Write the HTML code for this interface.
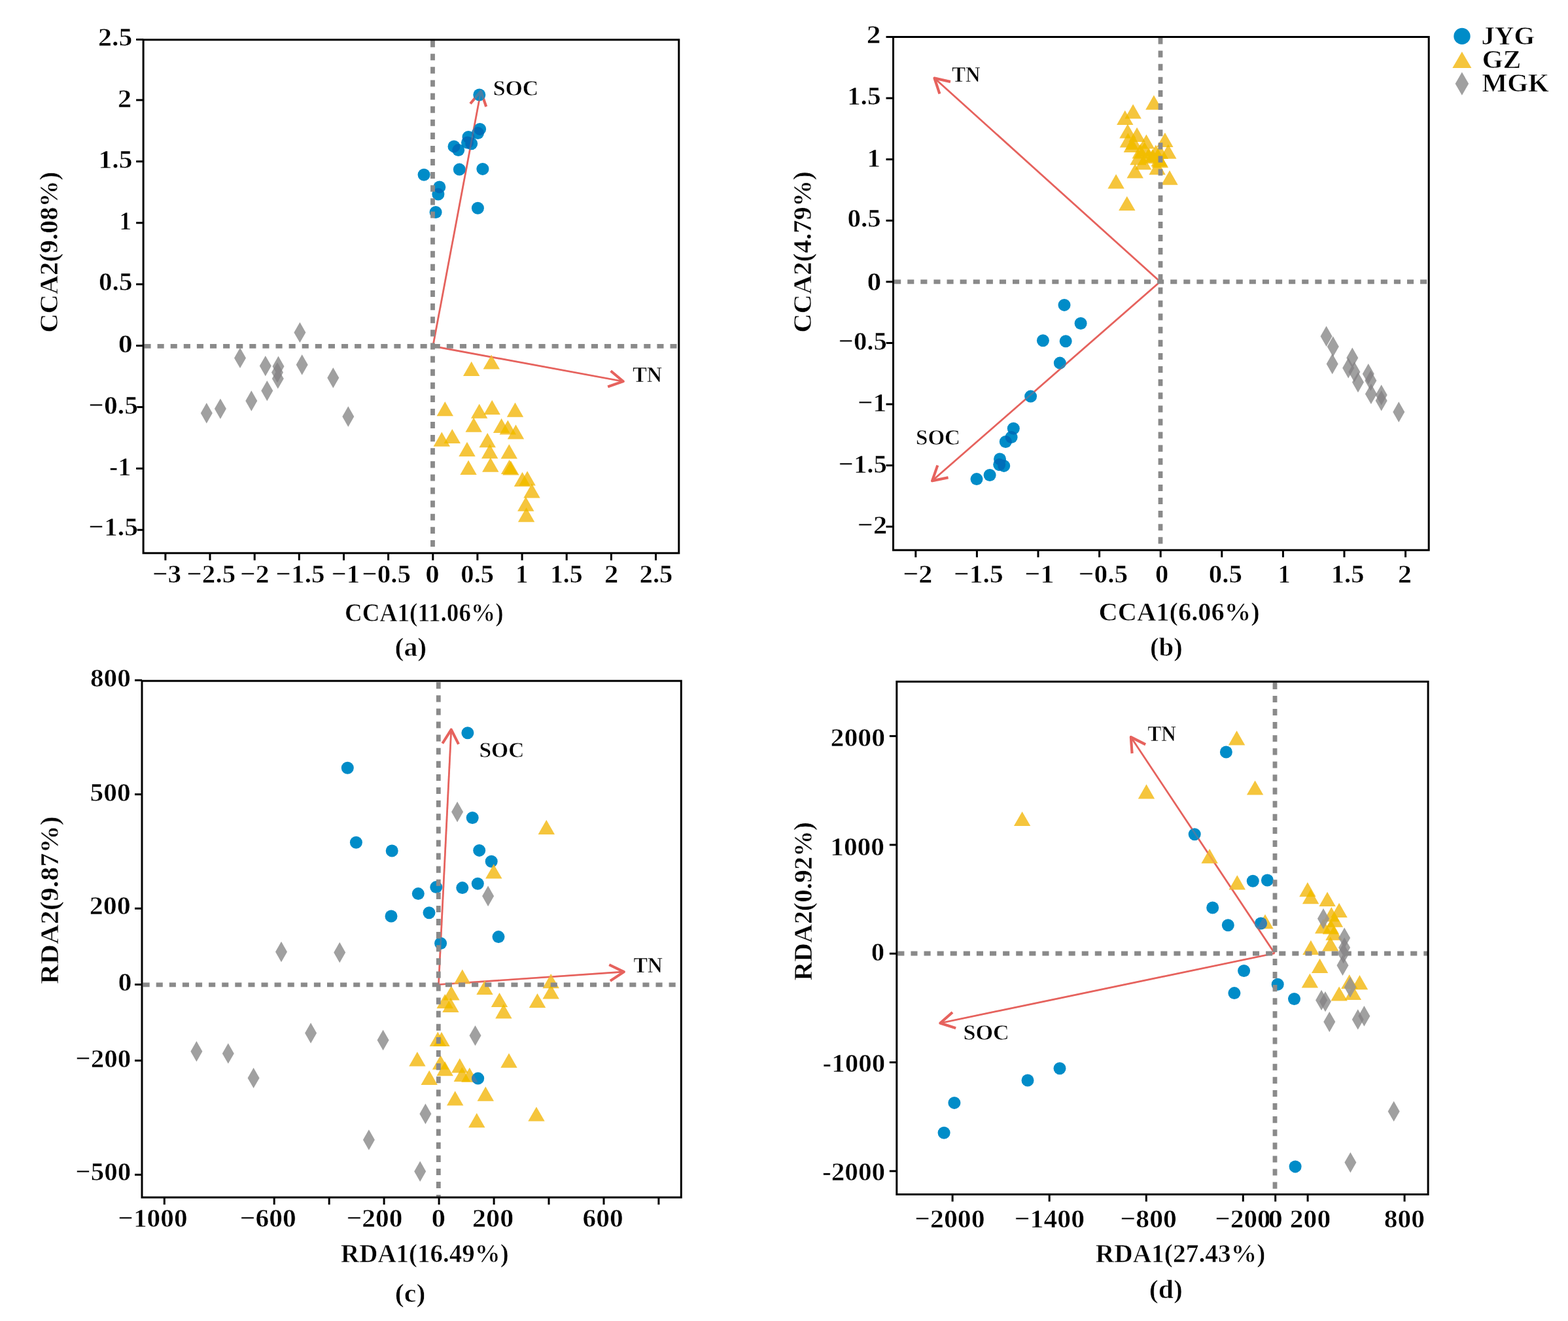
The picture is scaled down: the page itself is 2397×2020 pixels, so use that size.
<!DOCTYPE html>
<html><head><meta charset="utf-8"><title>CCA / RDA ordination plots</title>
<style>html,body{margin:0;padding:0;background:#fff;}svg{display:block;}</style></head>
<body>
<svg width="2397" height="2020" viewBox="0 0 2397 2020">
<defs><clipPath id="k0"><polygon points="425.5,544.6 434.5,560.3 425.5,576.0 416.5,560.3"/></clipPath><clipPath id="k1"><polygon points="425.5,544.6 434.5,560.3 425.5,576.0 416.5,560.3"/></clipPath><clipPath id="k2"><polygon points="424.8,563.2 433.8,578.9 424.8,594.6 415.8,578.9"/></clipPath><clipPath id="k3"><polygon points="424.8,563.2 433.8,578.9 424.8,594.6 415.8,578.9"/></clipPath><clipPath id="k4"><polygon points="424.0,553.9 433.0,569.6 424.0,585.3 415.0,569.6"/></clipPath><clipPath id="k5"><polygon points="732.7,617.6 745.4,639.8 720.0,639.8"/></clipPath><clipPath id="k6"><polygon points="732.7,617.6 745.4,639.8 720.0,639.8"/></clipPath><clipPath id="k7"><polygon points="766.6,639.7 779.3,661.9 753.9,661.9"/></clipPath><clipPath id="k8"><polygon points="766.6,639.7 779.3,661.9 753.9,661.9"/></clipPath><clipPath id="k9"><polygon points="776.3,642.4 789.0,664.6 763.6,664.6"/></clipPath><clipPath id="k10"><polygon points="675.3,660.5 688.0,682.7 662.6,682.7"/></clipPath><clipPath id="k11"><polygon points="691.3,655.9 704.0,678.1 678.6,678.1"/></clipPath><clipPath id="k12"><polygon points="745.2,662.0 757.9,684.2 732.5,684.2"/></clipPath><clipPath id="k13"><polygon points="748.7,679.0 761.4,701.2 736.0,701.2"/></clipPath><clipPath id="k14"><polygon points="778.6,702.9 791.3,725.1 765.9,725.1"/></clipPath><clipPath id="k15"><polygon points="778.6,702.9 791.3,725.1 765.9,725.1"/></clipPath><clipPath id="k16"><polygon points="780.9,704.4 793.6,726.6 768.2,726.6"/></clipPath><clipPath id="k17"><polygon points="780.9,704.4 793.6,726.6 768.2,726.6"/></clipPath><clipPath id="k18"><polygon points="798.5,721.7 811.2,743.9 785.8,743.9"/></clipPath><clipPath id="k19"><polygon points="798.5,721.7 811.2,743.9 785.8,743.9"/></clipPath><clipPath id="k20"><polygon points="806.1,720.2 818.8,742.4 793.4,742.4"/></clipPath><clipPath id="k21"><polygon points="813.0,739.3 825.7,761.5 800.3,761.5"/></clipPath><clipPath id="k22"><polygon points="803.8,759.5 816.5,781.7 791.1,781.7"/></clipPath><clipPath id="k23"><circle cx="733.6" cy="197.4" r="9.50"/></clipPath><clipPath id="k24"><circle cx="733.6" cy="197.4" r="9.50"/></clipPath><clipPath id="k25"><circle cx="730.5" cy="203.5" r="9.50"/></clipPath><clipPath id="k26"><circle cx="730.5" cy="203.5" r="9.50"/></clipPath><clipPath id="k27"><circle cx="716.0" cy="209.5" r="9.50"/></clipPath><clipPath id="k28"><circle cx="730.5" cy="203.5" r="9.50"/></clipPath><clipPath id="k29"><circle cx="716.0" cy="209.5" r="9.50"/></clipPath><clipPath id="k30"><circle cx="714.5" cy="218.0" r="9.50"/></clipPath><clipPath id="k31"><circle cx="714.5" cy="218.0" r="9.50"/></clipPath><clipPath id="k32"><circle cx="694.0" cy="223.9" r="9.50"/></clipPath><clipPath id="k33"><circle cx="671.8" cy="285.9" r="9.50"/></clipPath><clipPath id="k34"><polygon points="2027.6,498.5 2036.6,514.2 2027.6,529.9 2018.6,514.2"/></clipPath><clipPath id="k35"><polygon points="2037.8,514.3 2046.8,530.0 2037.8,545.7 2028.8,530.0"/></clipPath><clipPath id="k36"><polygon points="2067.3,531.6 2076.3,547.3 2067.3,563.0 2058.3,547.3"/></clipPath><clipPath id="k37"><polygon points="2067.3,531.6 2076.3,547.3 2067.3,563.0 2058.3,547.3"/></clipPath><clipPath id="k38"><polygon points="2061.2,547.0 2070.2,562.7 2061.2,578.4 2052.2,562.7"/></clipPath><clipPath id="k39"><polygon points="2061.2,547.0 2070.2,562.7 2061.2,578.4 2052.2,562.7"/></clipPath><clipPath id="k40"><polygon points="2070.4,553.1 2079.4,568.8 2070.4,584.5 2061.4,568.8"/></clipPath><clipPath id="k41"><polygon points="2076.0,568.9 2085.0,584.6 2076.0,600.3 2067.0,584.6"/></clipPath><clipPath id="k42"><polygon points="2091.8,556.1 2100.8,571.8 2091.8,587.5 2082.8,571.8"/></clipPath><clipPath id="k43"><polygon points="2091.8,556.1 2100.8,571.8 2091.8,587.5 2082.8,571.8"/></clipPath><clipPath id="k44"><polygon points="2095.4,566.3 2104.4,582.0 2095.4,597.7 2086.4,582.0"/></clipPath><clipPath id="k45"><polygon points="2095.4,566.3 2104.4,582.0 2095.4,597.7 2086.4,582.0"/></clipPath><clipPath id="k46"><polygon points="2095.9,586.7 2104.9,602.4 2095.9,618.1 2086.9,602.4"/></clipPath><clipPath id="k47"><polygon points="2095.4,566.3 2104.4,582.0 2095.4,597.7 2086.4,582.0"/></clipPath><clipPath id="k48"><polygon points="2095.9,586.7 2104.9,602.4 2095.9,618.1 2086.9,602.4"/></clipPath><clipPath id="k49"><polygon points="2111.7,588.3 2120.7,604.0 2111.7,619.7 2102.7,604.0"/></clipPath><clipPath id="k50"><polygon points="1732.1,159.3 1744.8,181.5 1719.4,181.5"/></clipPath><clipPath id="k51"><polygon points="1719.8,168.8 1732.5,191.0 1707.1,191.0"/></clipPath><clipPath id="k52"><polygon points="1723.9,189.4 1736.6,211.6 1711.2,211.6"/></clipPath><clipPath id="k53"><polygon points="1738.1,194.8 1750.8,217.0 1725.4,217.0"/></clipPath><clipPath id="k54"><polygon points="1723.9,189.4 1736.6,211.6 1711.2,211.6"/></clipPath><clipPath id="k55"><polygon points="1738.1,194.8 1750.8,217.0 1725.4,217.0"/></clipPath><clipPath id="k56"><polygon points="1723.9,189.4 1736.6,211.6 1711.2,211.6"/></clipPath><clipPath id="k57"><polygon points="1738.1,194.8 1750.8,217.0 1725.4,217.0"/></clipPath><clipPath id="k58"><polygon points="1752.4,205.4 1765.1,227.6 1739.7,227.6"/></clipPath><clipPath id="k59"><polygon points="1724.4,203.2 1737.1,225.4 1711.7,225.4"/></clipPath><clipPath id="k60"><polygon points="1780.9,202.7 1793.6,224.9 1768.2,224.9"/></clipPath><clipPath id="k61"><polygon points="1752.4,205.4 1765.1,227.6 1739.7,227.6"/></clipPath><clipPath id="k62"><polygon points="1724.4,203.2 1737.1,225.4 1711.7,225.4"/></clipPath><clipPath id="k63"><polygon points="1733.0,206.5 1745.7,228.7 1720.3,228.7"/></clipPath><clipPath id="k64"><polygon points="1752.4,205.4 1765.1,227.6 1739.7,227.6"/></clipPath><clipPath id="k65"><polygon points="1780.9,202.7 1793.6,224.9 1768.2,224.9"/></clipPath><clipPath id="k66"><polygon points="1785.8,220.5 1798.5,242.7 1773.1,242.7"/></clipPath><clipPath id="k67"><polygon points="1743.2,220.2 1755.9,242.4 1730.5,242.4"/></clipPath><clipPath id="k68"><polygon points="1743.2,220.2 1755.9,242.4 1730.5,242.4"/></clipPath><clipPath id="k69"><polygon points="1743.2,220.2 1755.9,242.4 1730.5,242.4"/></clipPath><clipPath id="k70"><polygon points="1766.9,221.5 1779.6,243.7 1754.2,243.7"/></clipPath><clipPath id="k71"><polygon points="1740.0,230.1 1752.7,252.3 1727.3,252.3"/></clipPath><clipPath id="k72"><polygon points="1785.8,220.5 1798.5,242.7 1773.1,242.7"/></clipPath><clipPath id="k73"><polygon points="1766.9,221.5 1779.6,243.7 1754.2,243.7"/></clipPath><clipPath id="k74"><polygon points="1752.4,205.4 1765.1,227.6 1739.7,227.6"/></clipPath><clipPath id="k75"><polygon points="1780.9,202.7 1793.6,224.9 1768.2,224.9"/></clipPath><clipPath id="k76"><polygon points="1785.8,220.5 1798.5,242.7 1773.1,242.7"/></clipPath><clipPath id="k77"><polygon points="1766.9,221.5 1779.6,243.7 1754.2,243.7"/></clipPath><clipPath id="k78"><polygon points="1773.4,234.2 1786.1,256.4 1760.7,256.4"/></clipPath><clipPath id="k79"><polygon points="1785.8,220.5 1798.5,242.7 1773.1,242.7"/></clipPath><clipPath id="k80"><polygon points="1766.9,221.5 1779.6,243.7 1754.2,243.7"/></clipPath><clipPath id="k81"><polygon points="1747.6,237.2 1760.3,259.4 1734.9,259.4"/></clipPath><clipPath id="k82"><polygon points="1773.4,234.2 1786.1,256.4 1760.7,256.4"/></clipPath><clipPath id="k83"><polygon points="1773.4,220.9 1786.1,243.1 1760.7,243.1"/></clipPath><clipPath id="k84"><polygon points="1785.8,220.5 1798.5,242.7 1773.1,242.7"/></clipPath><clipPath id="k85"><polygon points="1743.2,220.2 1755.9,242.4 1730.5,242.4"/></clipPath><clipPath id="k86"><polygon points="1766.9,221.5 1779.6,243.7 1754.2,243.7"/></clipPath><clipPath id="k87"><polygon points="1740.0,230.1 1752.7,252.3 1727.3,252.3"/></clipPath><clipPath id="k88"><polygon points="1747.6,237.2 1760.3,259.4 1734.9,259.4"/></clipPath><clipPath id="k89"><polygon points="1773.4,234.2 1786.1,256.4 1760.7,256.4"/></clipPath><clipPath id="k90"><polygon points="1773.4,220.9 1786.1,243.1 1760.7,243.1"/></clipPath><clipPath id="k91"><polygon points="1772.2,232.3 1784.9,254.5 1759.5,254.5"/></clipPath><clipPath id="k92"><polygon points="1747.6,237.2 1760.3,259.4 1734.9,259.4"/></clipPath><clipPath id="k93"><polygon points="1773.4,234.2 1786.1,256.4 1760.7,256.4"/></clipPath><clipPath id="k94"><polygon points="1772.2,232.3 1784.9,254.5 1759.5,254.5"/></clipPath><clipPath id="k95"><polygon points="1762.0,227.7 1774.7,249.9 1749.3,249.9"/></clipPath><clipPath id="k96"><polygon points="1740.0,230.1 1752.7,252.3 1727.3,252.3"/></clipPath><clipPath id="k97"><polygon points="1747.6,237.2 1760.3,259.4 1734.9,259.4"/></clipPath><clipPath id="k98"><polygon points="1769.1,245.0 1781.8,267.2 1756.4,267.2"/></clipPath><clipPath id="k99"><polygon points="1752.4,205.4 1765.1,227.6 1739.7,227.6"/></clipPath><clipPath id="k100"><polygon points="1724.4,203.2 1737.1,225.4 1711.7,225.4"/></clipPath><clipPath id="k101"><polygon points="1733.0,206.5 1745.7,228.7 1720.3,228.7"/></clipPath><clipPath id="k102"><polygon points="1743.2,220.2 1755.9,242.4 1730.5,242.4"/></clipPath><clipPath id="k103"><polygon points="1766.9,221.5 1779.6,243.7 1754.2,243.7"/></clipPath><clipPath id="k104"><polygon points="1740.0,230.1 1752.7,252.3 1727.3,252.3"/></clipPath><clipPath id="k105"><polygon points="1747.6,237.2 1760.3,259.4 1734.9,259.4"/></clipPath><clipPath id="k106"><polygon points="1773.4,234.2 1786.1,256.4 1760.7,256.4"/></clipPath><clipPath id="k107"><polygon points="1773.4,220.9 1786.1,243.1 1760.7,243.1"/></clipPath><clipPath id="k108"><polygon points="1772.2,232.3 1784.9,254.5 1759.5,254.5"/></clipPath><clipPath id="k109"><polygon points="1762.0,227.7 1774.7,249.9 1749.3,249.9"/></clipPath><clipPath id="k110"><polygon points="1723.9,189.4 1736.6,211.6 1711.2,211.6"/></clipPath><clipPath id="k111"><polygon points="1738.1,194.8 1750.8,217.0 1725.4,217.0"/></clipPath><clipPath id="k112"><polygon points="1752.4,205.4 1765.1,227.6 1739.7,227.6"/></clipPath><clipPath id="k113"><polygon points="1724.4,203.2 1737.1,225.4 1711.7,225.4"/></clipPath><clipPath id="k114"><polygon points="1733.0,206.5 1745.7,228.7 1720.3,228.7"/></clipPath><clipPath id="k115"><polygon points="1743.2,220.2 1755.9,242.4 1730.5,242.4"/></clipPath><clipPath id="k116"><polygon points="1740.0,230.1 1752.7,252.3 1727.3,252.3"/></clipPath><clipPath id="k117"><polygon points="1749.7,217.2 1762.4,239.4 1737.0,239.4"/></clipPath><clipPath id="k118"><polygon points="1752.4,205.4 1765.1,227.6 1739.7,227.6"/></clipPath><clipPath id="k119"><polygon points="1733.0,206.5 1745.7,228.7 1720.3,228.7"/></clipPath><clipPath id="k120"><polygon points="1743.2,220.2 1755.9,242.4 1730.5,242.4"/></clipPath><clipPath id="k121"><polygon points="1766.9,221.5 1779.6,243.7 1754.2,243.7"/></clipPath><clipPath id="k122"><polygon points="1740.0,230.1 1752.7,252.3 1727.3,252.3"/></clipPath><clipPath id="k123"><polygon points="1747.6,237.2 1760.3,259.4 1734.9,259.4"/></clipPath><clipPath id="k124"><polygon points="1773.4,234.2 1786.1,256.4 1760.7,256.4"/></clipPath><clipPath id="k125"><polygon points="1773.4,220.9 1786.1,243.1 1760.7,243.1"/></clipPath><clipPath id="k126"><polygon points="1772.2,232.3 1784.9,254.5 1759.5,254.5"/></clipPath><clipPath id="k127"><polygon points="1762.0,227.7 1774.7,249.9 1749.3,249.9"/></clipPath><clipPath id="k128"><polygon points="1769.1,245.0 1781.8,267.2 1756.4,267.2"/></clipPath><clipPath id="k129"><polygon points="1749.7,217.2 1762.4,239.4 1737.0,239.4"/></clipPath><clipPath id="k130"><circle cx="1549.3" cy="655.3" r="9.50"/></clipPath><clipPath id="k131"><circle cx="1546.1" cy="668.5" r="9.50"/></clipPath><clipPath id="k132"><circle cx="1528.5" cy="701.9" r="9.50"/></clipPath><clipPath id="k133"><circle cx="1528.5" cy="701.9" r="9.50"/></clipPath><clipPath id="k134"><circle cx="1534.7" cy="712.4" r="9.50"/></clipPath><clipPath id="k135"><circle cx="1527.7" cy="710.6" r="9.50"/></clipPath><clipPath id="k136"><polygon points="842.2,1489.0 854.9,1511.2 829.5,1511.2"/></clipPath><clipPath id="k137"><polygon points="689.9,1507.3 702.6,1529.5 677.2,1529.5"/></clipPath><clipPath id="k138"><polygon points="689.9,1507.3 702.6,1529.5 677.2,1529.5"/></clipPath><clipPath id="k139"><polygon points="680.2,1519.9 692.9,1542.1 667.5,1542.1"/></clipPath><clipPath id="k140"><polygon points="741.0,1498.7 753.7,1520.9 728.3,1520.9"/></clipPath><clipPath id="k141"><polygon points="763.5,1517.9 776.2,1540.1 750.8,1540.1"/></clipPath><clipPath id="k142"><polygon points="842.2,1505.4 854.9,1527.6 829.5,1527.6"/></clipPath><clipPath id="k143"><polygon points="669.3,1577.7 682.0,1599.9 656.6,1599.9"/></clipPath><clipPath id="k144"><polygon points="673.5,1613.4 686.2,1635.6 660.8,1635.6"/></clipPath><clipPath id="k145"><polygon points="680.2,1623.0 692.9,1645.2 667.5,1645.2"/></clipPath><clipPath id="k146"><polygon points="702.8,1618.2 715.5,1640.4 690.1,1640.4"/></clipPath><clipPath id="k147"><polygon points="702.8,1618.2 715.5,1640.4 690.1,1640.4"/></clipPath><clipPath id="k148"><polygon points="706.3,1631.7 719.0,1653.9 693.6,1653.9"/></clipPath><clipPath id="k149"><polygon points="680.2,1623.0 692.9,1645.2 667.5,1645.2"/></clipPath><clipPath id="k150"><circle cx="732.7" cy="1300.4" r="9.50"/></clipPath><clipPath id="k151"><polygon points="746.1,1354.5 755.1,1370.2 746.1,1385.9 737.1,1370.2"/></clipPath><clipPath id="k152"><polygon points="717.8,1632.6 730.5,1654.8 705.1,1654.8"/></clipPath><clipPath id="k153"><circle cx="751.2" cy="1317.3" r="9.50"/></clipPath><clipPath id="k154"><polygon points="1998.9,1349.1 2011.6,1371.3 1986.2,1371.3"/></clipPath><clipPath id="k155"><polygon points="2029.1,1363.8 2041.8,1386.0 2016.4,1386.0"/></clipPath><clipPath id="k156"><polygon points="2047.1,1380.8 2059.8,1403.0 2034.4,1403.0"/></clipPath><clipPath id="k157"><polygon points="2047.1,1380.8 2059.8,1403.0 2034.4,1403.0"/></clipPath><clipPath id="k158"><polygon points="2035.3,1387.1 2048.0,1409.3 2022.6,1409.3"/></clipPath><clipPath id="k159"><polygon points="2035.3,1387.1 2048.0,1409.3 2022.6,1409.3"/></clipPath><clipPath id="k160"><polygon points="2040.4,1395.5 2053.1,1417.7 2027.7,1417.7"/></clipPath><clipPath id="k161"><polygon points="2035.3,1387.1 2048.0,1409.3 2022.6,1409.3"/></clipPath><clipPath id="k162"><polygon points="2040.4,1395.5 2053.1,1417.7 2027.7,1417.7"/></clipPath><clipPath id="k163"><polygon points="2022.7,1405.2 2035.4,1427.4 2010.0,1427.4"/></clipPath><clipPath id="k164"><polygon points="2040.4,1395.5 2053.1,1417.7 2027.7,1417.7"/></clipPath><clipPath id="k165"><polygon points="2022.7,1405.2 2035.4,1427.4 2010.0,1427.4"/></clipPath><clipPath id="k166"><polygon points="2034.5,1406.3 2047.2,1428.5 2021.8,1428.5"/></clipPath><clipPath id="k167"><polygon points="2039.0,1415.6 2051.7,1437.8 2026.3,1437.8"/></clipPath><clipPath id="k168"><polygon points="2062.8,1489.9 2075.5,1512.1 2050.1,1512.1"/></clipPath><clipPath id="k169"><polygon points="2062.8,1489.9 2075.5,1512.1 2050.1,1512.1"/></clipPath><clipPath id="k170"><polygon points="2062.8,1489.9 2075.5,1512.1 2050.1,1512.1"/></clipPath><clipPath id="k171"><polygon points="2078.5,1491.0 2091.2,1513.2 2065.8,1513.2"/></clipPath><clipPath id="k172"><polygon points="2047.1,1508.4 2059.8,1530.6 2034.4,1530.6"/></clipPath><clipPath id="k173"><polygon points="2035.3,1387.1 2048.0,1409.3 2022.6,1409.3"/></clipPath><clipPath id="k174"><polygon points="2040.4,1395.5 2053.1,1417.7 2027.7,1417.7"/></clipPath><clipPath id="k175"><polygon points="2022.7,1405.2 2035.4,1427.4 2010.0,1427.4"/></clipPath><clipPath id="k176"><polygon points="2034.5,1406.3 2047.2,1428.5 2021.8,1428.5"/></clipPath><clipPath id="k177"><polygon points="2039.0,1415.6 2051.7,1437.8 2026.3,1437.8"/></clipPath><clipPath id="k178"><polygon points="2034.5,1406.3 2047.2,1428.5 2021.8,1428.5"/></clipPath><clipPath id="k179"><polygon points="2039.0,1415.6 2051.7,1437.8 2026.3,1437.8"/></clipPath><clipPath id="k180"><polygon points="2033.8,1432.4 2046.5,1454.6 2021.1,1454.6"/></clipPath><clipPath id="k181"><polygon points="2039.0,1415.6 2051.7,1437.8 2026.3,1437.8"/></clipPath><clipPath id="k182"><polygon points="2033.8,1432.4 2046.5,1454.6 2021.1,1454.6"/></clipPath><clipPath id="k183"><polygon points="2055.2,1418.6 2064.2,1434.3 2055.2,1450.0 2046.2,1434.3"/></clipPath><clipPath id="k184"><polygon points="2033.8,1432.4 2046.5,1454.6 2021.1,1454.6"/></clipPath><clipPath id="k185"><polygon points="2055.2,1418.6 2064.2,1434.3 2055.2,1450.0 2046.2,1434.3"/></clipPath><clipPath id="k186"><polygon points="2055.2,1433.4 2064.2,1449.1 2055.2,1464.8 2046.2,1449.1"/></clipPath><clipPath id="k187"><polygon points="2062.8,1489.9 2075.5,1512.1 2050.1,1512.1"/></clipPath><clipPath id="k188"><polygon points="2055.2,1433.4 2064.2,1449.1 2055.2,1464.8 2046.2,1449.1"/></clipPath><clipPath id="k189"><polygon points="2053.7,1442.2 2062.7,1457.9 2053.7,1473.6 2044.7,1457.9"/></clipPath><clipPath id="k190"><polygon points="2062.8,1489.9 2075.5,1512.1 2050.1,1512.1"/></clipPath><clipPath id="k191"><polygon points="2078.5,1491.0 2091.2,1513.2 2065.8,1513.2"/></clipPath><clipPath id="k192"><polygon points="2047.1,1508.4 2059.8,1530.6 2034.4,1530.6"/></clipPath><clipPath id="k193"><polygon points="2068.4,1506.9 2081.1,1529.1 2055.7,1529.1"/></clipPath><clipPath id="k194"><polygon points="2047.1,1508.4 2059.8,1530.6 2034.4,1530.6"/></clipPath><clipPath id="k195"><polygon points="2020.1,1513.7 2029.1,1529.4 2020.1,1545.1 2011.1,1529.4"/></clipPath><clipPath id="k196"><polygon points="2026.0,1515.9 2035.0,1531.6 2026.0,1547.3 2017.0,1531.6"/></clipPath><clipPath id="k197"><polygon points="2075.8,1543.2 2084.8,1558.9 2075.8,1574.6 2066.8,1558.9"/></clipPath><clipPath id="k198"><polygon points="1934.0,1398.0 1946.7,1420.2 1921.3,1420.2"/></clipPath></defs>
<rect x="0" y="0" width="2397" height="2020" fill="#fff"/>
<g stroke="#E6625D" fill="none" stroke-linecap="butt" stroke-linejoin="miter"><line x1="661.8" y1="529.4" x2="734.9" y2="140.8" stroke-width="2.7"/><polyline points="719.0,158.5 735.1,139.4 743.2,163.0" fill="none" stroke-width="4" stroke-linejoin="round"/><line x1="661.8" y1="529.4" x2="951.4" y2="583.0" stroke-width="2.7"/><polyline points="933.7,567.2 952.8,583.2 929.2,591.4" fill="none" stroke-width="4" stroke-linejoin="round"/></g>
<polygon points="458.4,492.7 467.4,508.4 458.4,524.1 449.4,508.4" fill="#A0A0A0"/>
<polygon points="367.0,531.7 376.0,547.4 367.0,563.1 358.0,547.4" fill="#A0A0A0"/>
<polygon points="405.8,543.9 414.8,559.6 405.8,575.3 396.8,559.6" fill="#A0A0A0"/>
<polygon points="425.5,544.6 434.5,560.3 425.5,576.0 416.5,560.3" fill="#A0A0A0"/>
<polygon points="424.8,563.2 433.8,578.9 424.8,594.6 415.8,578.9" fill="#A0A0A0"/>
<polygon points="424.0,553.9 433.0,569.6 424.0,585.3 415.0,569.6" fill="#A0A0A0"/>
<polygon points="461.7,542.0 470.7,557.7 461.7,573.4 452.7,557.7" fill="#A0A0A0"/>
<polygon points="509.3,562.1 518.3,577.8 509.3,593.5 500.3,577.8" fill="#A0A0A0"/>
<polygon points="408.3,581.9 417.3,597.6 408.3,613.3 399.3,597.6" fill="#A0A0A0"/>
<polygon points="384.3,597.3 393.3,613.0 384.3,628.7 375.3,613.0" fill="#A0A0A0"/>
<polygon points="315.8,616.0 324.8,631.7 315.8,647.4 306.8,631.7" fill="#A0A0A0"/>
<polygon points="336.9,609.4 345.9,625.1 336.9,640.8 327.9,625.1" fill="#A0A0A0"/>
<polygon points="532.3,621.3 541.3,637.0 532.3,652.7 523.3,637.0" fill="#A0A0A0"/>
<polygon points="720.7,552.7 733.4,574.9 708.0,574.9" fill="#F5C53C"/>
<polygon points="751.3,542.4 764.0,564.6 738.6,564.6" fill="#F5C53C"/>
<polygon points="680.3,614.1 693.0,636.3 667.6,636.3" fill="#F5C53C"/>
<polygon points="732.7,617.6 745.4,639.8 720.0,639.8" fill="#F5C53C"/>
<polygon points="752.2,611.8 764.9,634.0 739.5,634.0" fill="#F5C53C"/>
<polygon points="787.5,615.6 800.2,637.8 774.8,637.8" fill="#F5C53C"/>
<polygon points="724.2,638.6 736.9,660.8 711.5,660.8" fill="#F5C53C"/>
<polygon points="766.6,639.7 779.3,661.9 753.9,661.9" fill="#F5C53C"/>
<polygon points="776.3,642.4 789.0,664.6 763.6,664.6" fill="#F5C53C"/>
<polygon points="788.5,649.3 801.2,671.5 775.8,671.5" fill="#F5C53C"/>
<polygon points="675.3,660.5 688.0,682.7 662.6,682.7" fill="#F5C53C"/>
<polygon points="691.3,655.9 704.0,678.1 678.6,678.1" fill="#F5C53C"/>
<polygon points="745.2,662.0 757.9,684.2 732.5,684.2" fill="#F5C53C"/>
<polygon points="714.0,675.8 726.7,698.0 701.3,698.0" fill="#F5C53C"/>
<polygon points="748.7,679.0 761.4,701.2 736.0,701.2" fill="#F5C53C"/>
<polygon points="778.3,679.3 791.0,701.5 765.6,701.5" fill="#F5C53C"/>
<polygon points="716.1,703.8 728.8,726.0 703.4,726.0" fill="#F5C53C"/>
<polygon points="749.8,699.5 762.5,721.7 737.1,721.7" fill="#F5C53C"/>
<polygon points="778.6,702.9 791.3,725.1 765.9,725.1" fill="#F5C53C"/>
<polygon points="780.9,704.4 793.6,726.6 768.2,726.6" fill="#F5C53C"/>
<polygon points="798.5,721.7 811.2,743.9 785.8,743.9" fill="#F5C53C"/>
<polygon points="806.1,720.2 818.8,742.4 793.4,742.4" fill="#F5C53C"/>
<polygon points="813.0,739.3 825.7,761.5 800.3,761.5" fill="#F5C53C"/>
<polygon points="803.8,759.5 816.5,781.7 791.1,781.7" fill="#F5C53C"/>
<polygon points="804.6,776.1 817.3,798.3 791.9,798.3" fill="#F5C53C"/>
<circle cx="732.8" cy="145.0" r="9.50" fill="#008CC8"/>
<circle cx="733.6" cy="197.4" r="9.50" fill="#008CC8"/>
<circle cx="730.5" cy="203.5" r="9.50" fill="#008CC8"/>
<circle cx="716.0" cy="209.5" r="9.50" fill="#008CC8"/>
<circle cx="714.5" cy="218.0" r="9.50" fill="#008CC8"/>
<circle cx="720.7" cy="219.7" r="9.50" fill="#008CC8"/>
<circle cx="694.0" cy="223.9" r="9.50" fill="#008CC8"/>
<circle cx="700.7" cy="229.6" r="9.50" fill="#008CC8"/>
<circle cx="702.3" cy="259.1" r="9.50" fill="#008CC8"/>
<circle cx="737.9" cy="258.4" r="9.50" fill="#008CC8"/>
<circle cx="648.1" cy="267.2" r="9.50" fill="#008CC8"/>
<circle cx="671.8" cy="285.9" r="9.50" fill="#008CC8"/>
<circle cx="669.9" cy="297.1" r="9.50" fill="#008CC8"/>
<circle cx="666.1" cy="324.5" r="9.50" fill="#008CC8"/>
<circle cx="730.4" cy="318.3" r="9.50" fill="#008CC8"/>
<polygon points="424.8,563.2 433.8,578.9 424.8,594.6 415.8,578.9" fill="#8A888A" clip-path="url(#k0)"/>
<polygon points="424.0,553.9 433.0,569.6 424.0,585.3 415.0,569.6" fill="#8A888A" clip-path="url(#k1)"/>
<polygon points="424.0,553.9 433.0,569.6 424.0,585.3 415.0,569.6" fill="#8A888A" clip-path="url(#k2)"/>
<polygon points="408.3,581.9 417.3,597.6 408.3,613.3 399.3,597.6" fill="#8A888A" clip-path="url(#k3)"/>
<polygon points="408.3,581.9 417.3,597.6 408.3,613.3 399.3,597.6" fill="#8A888A" clip-path="url(#k4)"/>
<polygon points="752.2,611.8 764.9,634.0 739.5,634.0" fill="#F2BD00" clip-path="url(#k5)"/>
<polygon points="724.2,638.6 736.9,660.8 711.5,660.8" fill="#F2BD00" clip-path="url(#k6)"/>
<polygon points="776.3,642.4 789.0,664.6 763.6,664.6" fill="#F2BD00" clip-path="url(#k7)"/>
<polygon points="788.5,649.3 801.2,671.5 775.8,671.5" fill="#F2BD00" clip-path="url(#k8)"/>
<polygon points="788.5,649.3 801.2,671.5 775.8,671.5" fill="#F2BD00" clip-path="url(#k9)"/>
<polygon points="691.3,655.9 704.0,678.1 678.6,678.1" fill="#F2BD00" clip-path="url(#k10)"/>
<polygon points="714.0,675.8 726.7,698.0 701.3,698.0" fill="#F2BD00" clip-path="url(#k11)"/>
<polygon points="748.7,679.0 761.4,701.2 736.0,701.2" fill="#F2BD00" clip-path="url(#k12)"/>
<polygon points="749.8,699.5 762.5,721.7 737.1,721.7" fill="#F2BD00" clip-path="url(#k13)"/>
<polygon points="780.9,704.4 793.6,726.6 768.2,726.6" fill="#F2BD00" clip-path="url(#k14)"/>
<polygon points="798.5,721.7 811.2,743.9 785.8,743.9" fill="#F2BD00" clip-path="url(#k15)"/>
<polygon points="798.5,721.7 811.2,743.9 785.8,743.9" fill="#F2BD00" clip-path="url(#k16)"/>
<polygon points="806.1,720.2 818.8,742.4 793.4,742.4" fill="#F2BD00" clip-path="url(#k17)"/>
<polygon points="806.1,720.2 818.8,742.4 793.4,742.4" fill="#F2BD00" clip-path="url(#k18)"/>
<polygon points="813.0,739.3 825.7,761.5 800.3,761.5" fill="#F2BD00" clip-path="url(#k19)"/>
<polygon points="813.0,739.3 825.7,761.5 800.3,761.5" fill="#F2BD00" clip-path="url(#k20)"/>
<polygon points="803.8,759.5 816.5,781.7 791.1,781.7" fill="#F2BD00" clip-path="url(#k21)"/>
<polygon points="804.6,776.1 817.3,798.3 791.9,798.3" fill="#F2BD00" clip-path="url(#k22)"/>
<circle cx="730.5" cy="203.5" r="9.50" fill="#006EB9" clip-path="url(#k23)"/>
<circle cx="716.0" cy="209.5" r="9.50" fill="#006EB9" clip-path="url(#k24)"/>
<circle cx="716.0" cy="209.5" r="9.50" fill="#006EB9" clip-path="url(#k25)"/>
<circle cx="714.5" cy="218.0" r="9.50" fill="#006EB9" clip-path="url(#k26)"/>
<circle cx="714.5" cy="218.0" r="9.50" fill="#006EB9" clip-path="url(#k27)"/>
<circle cx="720.7" cy="219.7" r="9.50" fill="#006EB9" clip-path="url(#k28)"/>
<circle cx="720.7" cy="219.7" r="9.50" fill="#006EB9" clip-path="url(#k29)"/>
<circle cx="720.7" cy="219.7" r="9.50" fill="#006EB9" clip-path="url(#k30)"/>
<circle cx="700.7" cy="229.6" r="9.50" fill="#006EB9" clip-path="url(#k31)"/>
<circle cx="700.7" cy="229.6" r="9.50" fill="#006EB9" clip-path="url(#k32)"/>
<circle cx="669.9" cy="297.1" r="9.50" fill="#006EB9" clip-path="url(#k33)"/>
<g stroke="#E6625D" fill="none" opacity="0.3" stroke-linecap="butt"><line x1="661.8" y1="529.4" x2="734.9" y2="140.8" stroke-width="2.7"/><polyline points="719.0,158.5 735.1,139.4 743.2,163.0" fill="none" stroke-width="4" stroke-linejoin="round"/><line x1="661.8" y1="529.4" x2="951.4" y2="583.0" stroke-width="2.7"/><polyline points="933.7,567.2 952.8,583.2 929.2,591.4" fill="none" stroke-width="4" stroke-linejoin="round"/></g>
<g stroke="#8A8A8A" stroke-width="6.8" stroke-dasharray="10.1 10">
<line x1="661.5" y1="60.8" x2="661.5" y2="845.8" stroke-dashoffset="-1.3"/>
<line x1="219.1" y1="529.4" x2="1037.8" y2="529.4" stroke-dashoffset="-1.4"/>
</g>
<g stroke="#000" stroke-width="3" fill="none">
<rect x="219.1" y="60.8" width="818.7" height="785.0"/>
<line x1="208.1" y1="60.5" x2="219.1" y2="60.5"/>
<line x1="208.1" y1="153.0" x2="219.1" y2="153.0"/>
<line x1="208.1" y1="246.9" x2="219.1" y2="246.9"/>
<line x1="208.1" y1="340.8" x2="219.1" y2="340.8"/>
<line x1="208.1" y1="434.7" x2="219.1" y2="434.7"/>
<line x1="208.1" y1="528.6" x2="219.1" y2="528.6"/>
<line x1="208.1" y1="622.5" x2="219.1" y2="622.5"/>
<line x1="208.1" y1="716.4" x2="219.1" y2="716.4"/>
<line x1="208.1" y1="810.3" x2="219.1" y2="810.3"/>
<line x1="252.9" y1="845.8" x2="252.9" y2="856.8"/>
<line x1="321.0" y1="845.8" x2="321.0" y2="856.8"/>
<line x1="389.2" y1="845.8" x2="389.2" y2="856.8"/>
<line x1="457.3" y1="845.8" x2="457.3" y2="856.8"/>
<line x1="525.5" y1="845.8" x2="525.5" y2="856.8"/>
<line x1="593.6" y1="845.8" x2="593.6" y2="856.8"/>
<line x1="661.8" y1="845.8" x2="661.8" y2="856.8"/>
<line x1="729.9" y1="845.8" x2="729.9" y2="856.8"/>
<line x1="798.1" y1="845.8" x2="798.1" y2="856.8"/>
<line x1="866.2" y1="845.8" x2="866.2" y2="856.8"/>
<line x1="934.4" y1="845.8" x2="934.4" y2="856.8"/>
<line x1="1002.5" y1="845.8" x2="1002.5" y2="856.8"/>
</g>
<g font-family="Liberation Serif, Times New Roman, serif" font-weight="bold" fill="#000" stroke="#fff" stroke-width="0.7" stroke-opacity="0.9">
<text x="150.14" y="70.30" font-size="41.00" textLength="52.37" lengthAdjust="spacingAndGlyphs" >2.5</text>
<text x="180.12" y="163.60" font-size="41.00" textLength="21.15" lengthAdjust="spacingAndGlyphs" >2</text>
<text x="150.47" y="257.20" font-size="41.00" textLength="52.03" lengthAdjust="spacingAndGlyphs" >1.5</text>
<text x="182.20" y="351.20" font-size="41.00" textLength="18.75" lengthAdjust="spacingAndGlyphs" >1</text>
<text x="151.04" y="444.10" font-size="41.00" textLength="51.45" lengthAdjust="spacingAndGlyphs" >0.5</text>
<text x="180.72" y="539.10" font-size="41.00" textLength="22.05" lengthAdjust="spacingAndGlyphs" >0</text>
<text x="135.34" y="632.80" font-size="41.00" textLength="75.65" lengthAdjust="spacingAndGlyphs" >−0.5</text>
<text x="166.96" y="726.70" font-size="41.00" textLength="33.39" lengthAdjust="spacingAndGlyphs" >-1</text>
<text x="135.34" y="818.90" font-size="41.00" textLength="75.65" lengthAdjust="spacingAndGlyphs" >−1.5</text>
<text x="232.94" y="890.70" font-size="41.00" textLength="44.36" lengthAdjust="spacingAndGlyphs" >−3</text>
<text x="285.47" y="890.70" font-size="41.00" textLength="74.70" lengthAdjust="spacingAndGlyphs" >−2.5</text>
<text x="367.03" y="890.70" font-size="41.00" textLength="44.72" lengthAdjust="spacingAndGlyphs" >−2</text>
<text x="421.56" y="890.70" font-size="41.00" textLength="75.02" lengthAdjust="spacingAndGlyphs" >−1.5</text>
<text x="506.68" y="890.70" font-size="41.00" textLength="43.52" lengthAdjust="spacingAndGlyphs" >−1</text>
<text x="553.37" y="890.70" font-size="41.00" textLength="74.60" lengthAdjust="spacingAndGlyphs" >−0.5</text>
<text x="650.17" y="890.70" font-size="41.00" textLength="21.46" lengthAdjust="spacingAndGlyphs" >0</text>
<text x="704.36" y="890.70" font-size="41.00" textLength="50.81" lengthAdjust="spacingAndGlyphs" >0.5</text>
<text x="787.89" y="890.70" font-size="41.00" textLength="19.43" lengthAdjust="spacingAndGlyphs" >1</text>
<text x="840.90" y="890.70" font-size="41.00" textLength="49.93" lengthAdjust="spacingAndGlyphs" >1.5</text>
<text x="923.90" y="890.70" font-size="41.00" textLength="21.39" lengthAdjust="spacingAndGlyphs" >2</text>
<text x="977.49" y="890.70" font-size="41.00" textLength="50.98" lengthAdjust="spacingAndGlyphs" >2.5</text>
<text x="526.92" y="949.60" font-size="41.00" textLength="242.69" lengthAdjust="spacingAndGlyphs" >CCA1(11.06%)</text>
<text x="603.46" y="1002.60" font-size="39.50" textLength="48.80" lengthAdjust="spacingAndGlyphs" >(a)</text>
<text transform="translate(87.50,508.74) rotate(-90)" x="0" y="0" font-size="41.00" textLength="246.16" lengthAdjust="spacingAndGlyphs">CCA2(9.08%)</text>
<text x="753.67" y="145.60" font-size="34.40" textLength="69.61" lengthAdjust="spacingAndGlyphs" >SOC</text>
<text x="967.18" y="583.60" font-size="34.40" textLength="44.74" lengthAdjust="spacingAndGlyphs" >TN</text>
</g>
<g stroke="#E6625D" fill="none" stroke-linecap="butt" stroke-linejoin="miter"><line x1="1773.5" y1="430.8" x2="1429.6" y2="120.5" stroke-width="2.7"/><polyline points="1436.4,143.3 1428.5,119.5 1452.9,125.0" fill="none" stroke-width="4" stroke-linejoin="round"/><line x1="1773.5" y1="430.8" x2="1426.1" y2="734.3" stroke-width="2.7"/><polyline points="1449.5,730.2 1425.0,735.3 1433.3,711.7" fill="none" stroke-width="4" stroke-linejoin="round"/></g>
<polygon points="2027.6,498.5 2036.6,514.2 2027.6,529.9 2018.6,514.2" fill="#A0A0A0"/>
<polygon points="2037.8,514.3 2046.8,530.0 2037.8,545.7 2028.8,530.0" fill="#A0A0A0"/>
<polygon points="2036.7,540.8 2045.7,556.5 2036.7,572.2 2027.7,556.5" fill="#A0A0A0"/>
<polygon points="2067.3,531.6 2076.3,547.3 2067.3,563.0 2058.3,547.3" fill="#A0A0A0"/>
<polygon points="2061.2,547.0 2070.2,562.7 2061.2,578.4 2052.2,562.7" fill="#A0A0A0"/>
<polygon points="2070.4,553.1 2079.4,568.8 2070.4,584.5 2061.4,568.8" fill="#A0A0A0"/>
<polygon points="2076.0,568.9 2085.0,584.6 2076.0,600.3 2067.0,584.6" fill="#A0A0A0"/>
<polygon points="2091.8,556.1 2100.8,571.8 2091.8,587.5 2082.8,571.8" fill="#A0A0A0"/>
<polygon points="2095.4,566.3 2104.4,582.0 2095.4,597.7 2086.4,582.0" fill="#A0A0A0"/>
<polygon points="2095.9,586.7 2104.9,602.4 2095.9,618.1 2086.9,602.4" fill="#A0A0A0"/>
<polygon points="2111.7,588.3 2120.7,604.0 2111.7,619.7 2102.7,604.0" fill="#A0A0A0"/>
<polygon points="2111.7,597.0 2120.7,612.7 2111.7,628.4 2102.7,612.7" fill="#A0A0A0"/>
<polygon points="2138.3,614.3 2147.3,630.0 2138.3,645.7 2129.3,630.0" fill="#A0A0A0"/>
<polygon points="1763.9,145.6 1776.6,167.8 1751.2,167.8" fill="#F5C53C"/>
<polygon points="1732.1,159.3 1744.8,181.5 1719.4,181.5" fill="#F5C53C"/>
<polygon points="1719.8,168.8 1732.5,191.0 1707.1,191.0" fill="#F5C53C"/>
<polygon points="1723.9,189.4 1736.6,211.6 1711.2,211.6" fill="#F5C53C"/>
<polygon points="1738.1,194.8 1750.8,217.0 1725.4,217.0" fill="#F5C53C"/>
<polygon points="1752.4,205.4 1765.1,227.6 1739.7,227.6" fill="#F5C53C"/>
<polygon points="1724.4,203.2 1737.1,225.4 1711.7,225.4" fill="#F5C53C"/>
<polygon points="1733.0,206.5 1745.7,228.7 1720.3,228.7" fill="#F5C53C"/>
<polygon points="1780.9,202.7 1793.6,224.9 1768.2,224.9" fill="#F5C53C"/>
<polygon points="1785.8,220.5 1798.5,242.7 1773.1,242.7" fill="#F5C53C"/>
<polygon points="1743.2,220.2 1755.9,242.4 1730.5,242.4" fill="#F5C53C"/>
<polygon points="1766.9,221.5 1779.6,243.7 1754.2,243.7" fill="#F5C53C"/>
<polygon points="1740.0,230.1 1752.7,252.3 1727.3,252.3" fill="#F5C53C"/>
<polygon points="1747.6,237.2 1760.3,259.4 1734.9,259.4" fill="#F5C53C"/>
<polygon points="1773.4,234.2 1786.1,256.4 1760.7,256.4" fill="#F5C53C"/>
<polygon points="1773.4,220.9 1786.1,243.1 1760.7,243.1" fill="#F5C53C"/>
<polygon points="1772.2,232.3 1784.9,254.5 1759.5,254.5" fill="#F5C53C"/>
<polygon points="1762.0,227.7 1774.7,249.9 1749.3,249.9" fill="#F5C53C"/>
<polygon points="1769.1,245.0 1781.8,267.2 1756.4,267.2" fill="#F5C53C"/>
<polygon points="1735.2,250.4 1747.9,272.6 1722.5,272.6" fill="#F5C53C"/>
<polygon points="1788.0,260.5 1800.7,282.7 1775.3,282.7" fill="#F5C53C"/>
<polygon points="1706.1,266.2 1718.8,288.4 1693.4,288.4" fill="#F5C53C"/>
<polygon points="1722.8,299.9 1735.5,322.1 1710.1,322.1" fill="#F5C53C"/>
<polygon points="1749.7,217.2 1762.4,239.4 1737.0,239.4" fill="#F5C53C"/>
<polygon points="1730.3,210.8 1743.0,233.0 1717.6,233.0" fill="#F5C53C"/>
<polygon points="1756.2,225.9 1768.9,248.1 1743.5,248.1" fill="#F5C53C"/>
<circle cx="1627.0" cy="466.4" r="9.50" fill="#008CC8"/>
<circle cx="1652.1" cy="494.5" r="9.50" fill="#008CC8"/>
<circle cx="1594.4" cy="520.8" r="9.50" fill="#008CC8"/>
<circle cx="1629.2" cy="521.7" r="9.50" fill="#008CC8"/>
<circle cx="1620.3" cy="555.1" r="9.50" fill="#008CC8"/>
<circle cx="1575.6" cy="606.1" r="9.50" fill="#008CC8"/>
<circle cx="1549.3" cy="655.3" r="9.50" fill="#008CC8"/>
<circle cx="1546.1" cy="668.5" r="9.50" fill="#008CC8"/>
<circle cx="1537.3" cy="675.5" r="9.50" fill="#008CC8"/>
<circle cx="1528.5" cy="701.9" r="9.50" fill="#008CC8"/>
<circle cx="1534.7" cy="712.4" r="9.50" fill="#008CC8"/>
<circle cx="1527.7" cy="710.6" r="9.50" fill="#008CC8"/>
<circle cx="1513.1" cy="726.5" r="9.50" fill="#008CC8"/>
<circle cx="1493.0" cy="732.6" r="9.50" fill="#008CC8"/>
<polygon points="2037.8,514.3 2046.8,530.0 2037.8,545.7 2028.8,530.0" fill="#8A888A" clip-path="url(#k34)"/>
<polygon points="2036.7,540.8 2045.7,556.5 2036.7,572.2 2027.7,556.5" fill="#8A888A" clip-path="url(#k35)"/>
<polygon points="2061.2,547.0 2070.2,562.7 2061.2,578.4 2052.2,562.7" fill="#8A888A" clip-path="url(#k36)"/>
<polygon points="2070.4,553.1 2079.4,568.8 2070.4,584.5 2061.4,568.8" fill="#8A888A" clip-path="url(#k37)"/>
<polygon points="2070.4,553.1 2079.4,568.8 2070.4,584.5 2061.4,568.8" fill="#8A888A" clip-path="url(#k38)"/>
<polygon points="2076.0,568.9 2085.0,584.6 2076.0,600.3 2067.0,584.6" fill="#8A888A" clip-path="url(#k39)"/>
<polygon points="2076.0,568.9 2085.0,584.6 2076.0,600.3 2067.0,584.6" fill="#8A888A" clip-path="url(#k40)"/>
<polygon points="2091.8,556.1 2100.8,571.8 2091.8,587.5 2082.8,571.8" fill="#8A888A" clip-path="url(#k41)"/>
<polygon points="2095.4,566.3 2104.4,582.0 2095.4,597.7 2086.4,582.0" fill="#8A888A" clip-path="url(#k42)"/>
<polygon points="2095.9,586.7 2104.9,602.4 2095.9,618.1 2086.9,602.4" fill="#8A888A" clip-path="url(#k43)"/>
<polygon points="2095.9,586.7 2104.9,602.4 2095.9,618.1 2086.9,602.4" fill="#8A888A" clip-path="url(#k44)"/>
<polygon points="2111.7,588.3 2120.7,604.0 2111.7,619.7 2102.7,604.0" fill="#8A888A" clip-path="url(#k45)"/>
<polygon points="2111.7,588.3 2120.7,604.0 2111.7,619.7 2102.7,604.0" fill="#8A888A" clip-path="url(#k46)"/>
<polygon points="2111.7,597.0 2120.7,612.7 2111.7,628.4 2102.7,612.7" fill="#8A888A" clip-path="url(#k47)"/>
<polygon points="2111.7,597.0 2120.7,612.7 2111.7,628.4 2102.7,612.7" fill="#8A888A" clip-path="url(#k48)"/>
<polygon points="2111.7,597.0 2120.7,612.7 2111.7,628.4 2102.7,612.7" fill="#8A888A" clip-path="url(#k49)"/>
<polygon points="1719.8,168.8 1732.5,191.0 1707.1,191.0" fill="#F2BD00" clip-path="url(#k50)"/>
<polygon points="1723.9,189.4 1736.6,211.6 1711.2,211.6" fill="#F2BD00" clip-path="url(#k51)"/>
<polygon points="1738.1,194.8 1750.8,217.0 1725.4,217.0" fill="#F2BD00" clip-path="url(#k52)"/>
<polygon points="1752.4,205.4 1765.1,227.6 1739.7,227.6" fill="#F2BD00" clip-path="url(#k53)"/>
<polygon points="1724.4,203.2 1737.1,225.4 1711.7,225.4" fill="#F2BD00" clip-path="url(#k54)"/>
<polygon points="1724.4,203.2 1737.1,225.4 1711.7,225.4" fill="#F2BD00" clip-path="url(#k55)"/>
<polygon points="1733.0,206.5 1745.7,228.7 1720.3,228.7" fill="#F2BD00" clip-path="url(#k56)"/>
<polygon points="1733.0,206.5 1745.7,228.7 1720.3,228.7" fill="#F2BD00" clip-path="url(#k57)"/>
<polygon points="1733.0,206.5 1745.7,228.7 1720.3,228.7" fill="#F2BD00" clip-path="url(#k58)"/>
<polygon points="1733.0,206.5 1745.7,228.7 1720.3,228.7" fill="#F2BD00" clip-path="url(#k59)"/>
<polygon points="1785.8,220.5 1798.5,242.7 1773.1,242.7" fill="#F2BD00" clip-path="url(#k60)"/>
<polygon points="1743.2,220.2 1755.9,242.4 1730.5,242.4" fill="#F2BD00" clip-path="url(#k61)"/>
<polygon points="1743.2,220.2 1755.9,242.4 1730.5,242.4" fill="#F2BD00" clip-path="url(#k62)"/>
<polygon points="1743.2,220.2 1755.9,242.4 1730.5,242.4" fill="#F2BD00" clip-path="url(#k63)"/>
<polygon points="1766.9,221.5 1779.6,243.7 1754.2,243.7" fill="#F2BD00" clip-path="url(#k64)"/>
<polygon points="1766.9,221.5 1779.6,243.7 1754.2,243.7" fill="#F2BD00" clip-path="url(#k65)"/>
<polygon points="1766.9,221.5 1779.6,243.7 1754.2,243.7" fill="#F2BD00" clip-path="url(#k66)"/>
<polygon points="1766.9,221.5 1779.6,243.7 1754.2,243.7" fill="#F2BD00" clip-path="url(#k67)"/>
<polygon points="1740.0,230.1 1752.7,252.3 1727.3,252.3" fill="#F2BD00" clip-path="url(#k68)"/>
<polygon points="1747.6,237.2 1760.3,259.4 1734.9,259.4" fill="#F2BD00" clip-path="url(#k69)"/>
<polygon points="1747.6,237.2 1760.3,259.4 1734.9,259.4" fill="#F2BD00" clip-path="url(#k70)"/>
<polygon points="1747.6,237.2 1760.3,259.4 1734.9,259.4" fill="#F2BD00" clip-path="url(#k71)"/>
<polygon points="1773.4,234.2 1786.1,256.4 1760.7,256.4" fill="#F2BD00" clip-path="url(#k72)"/>
<polygon points="1773.4,234.2 1786.1,256.4 1760.7,256.4" fill="#F2BD00" clip-path="url(#k73)"/>
<polygon points="1773.4,220.9 1786.1,243.1 1760.7,243.1" fill="#F2BD00" clip-path="url(#k74)"/>
<polygon points="1773.4,220.9 1786.1,243.1 1760.7,243.1" fill="#F2BD00" clip-path="url(#k75)"/>
<polygon points="1773.4,220.9 1786.1,243.1 1760.7,243.1" fill="#F2BD00" clip-path="url(#k76)"/>
<polygon points="1773.4,220.9 1786.1,243.1 1760.7,243.1" fill="#F2BD00" clip-path="url(#k77)"/>
<polygon points="1773.4,220.9 1786.1,243.1 1760.7,243.1" fill="#F2BD00" clip-path="url(#k78)"/>
<polygon points="1772.2,232.3 1784.9,254.5 1759.5,254.5" fill="#F2BD00" clip-path="url(#k79)"/>
<polygon points="1772.2,232.3 1784.9,254.5 1759.5,254.5" fill="#F2BD00" clip-path="url(#k80)"/>
<polygon points="1772.2,232.3 1784.9,254.5 1759.5,254.5" fill="#F2BD00" clip-path="url(#k81)"/>
<polygon points="1772.2,232.3 1784.9,254.5 1759.5,254.5" fill="#F2BD00" clip-path="url(#k82)"/>
<polygon points="1772.2,232.3 1784.9,254.5 1759.5,254.5" fill="#F2BD00" clip-path="url(#k83)"/>
<polygon points="1762.0,227.7 1774.7,249.9 1749.3,249.9" fill="#F2BD00" clip-path="url(#k84)"/>
<polygon points="1762.0,227.7 1774.7,249.9 1749.3,249.9" fill="#F2BD00" clip-path="url(#k85)"/>
<polygon points="1762.0,227.7 1774.7,249.9 1749.3,249.9" fill="#F2BD00" clip-path="url(#k86)"/>
<polygon points="1762.0,227.7 1774.7,249.9 1749.3,249.9" fill="#F2BD00" clip-path="url(#k87)"/>
<polygon points="1762.0,227.7 1774.7,249.9 1749.3,249.9" fill="#F2BD00" clip-path="url(#k88)"/>
<polygon points="1762.0,227.7 1774.7,249.9 1749.3,249.9" fill="#F2BD00" clip-path="url(#k89)"/>
<polygon points="1762.0,227.7 1774.7,249.9 1749.3,249.9" fill="#F2BD00" clip-path="url(#k90)"/>
<polygon points="1762.0,227.7 1774.7,249.9 1749.3,249.9" fill="#F2BD00" clip-path="url(#k91)"/>
<polygon points="1769.1,245.0 1781.8,267.2 1756.4,267.2" fill="#F2BD00" clip-path="url(#k92)"/>
<polygon points="1769.1,245.0 1781.8,267.2 1756.4,267.2" fill="#F2BD00" clip-path="url(#k93)"/>
<polygon points="1769.1,245.0 1781.8,267.2 1756.4,267.2" fill="#F2BD00" clip-path="url(#k94)"/>
<polygon points="1769.1,245.0 1781.8,267.2 1756.4,267.2" fill="#F2BD00" clip-path="url(#k95)"/>
<polygon points="1735.2,250.4 1747.9,272.6 1722.5,272.6" fill="#F2BD00" clip-path="url(#k96)"/>
<polygon points="1735.2,250.4 1747.9,272.6 1722.5,272.6" fill="#F2BD00" clip-path="url(#k97)"/>
<polygon points="1788.0,260.5 1800.7,282.7 1775.3,282.7" fill="#F2BD00" clip-path="url(#k98)"/>
<polygon points="1749.7,217.2 1762.4,239.4 1737.0,239.4" fill="#F2BD00" clip-path="url(#k99)"/>
<polygon points="1749.7,217.2 1762.4,239.4 1737.0,239.4" fill="#F2BD00" clip-path="url(#k100)"/>
<polygon points="1749.7,217.2 1762.4,239.4 1737.0,239.4" fill="#F2BD00" clip-path="url(#k101)"/>
<polygon points="1749.7,217.2 1762.4,239.4 1737.0,239.4" fill="#F2BD00" clip-path="url(#k102)"/>
<polygon points="1749.7,217.2 1762.4,239.4 1737.0,239.4" fill="#F2BD00" clip-path="url(#k103)"/>
<polygon points="1749.7,217.2 1762.4,239.4 1737.0,239.4" fill="#F2BD00" clip-path="url(#k104)"/>
<polygon points="1749.7,217.2 1762.4,239.4 1737.0,239.4" fill="#F2BD00" clip-path="url(#k105)"/>
<polygon points="1749.7,217.2 1762.4,239.4 1737.0,239.4" fill="#F2BD00" clip-path="url(#k106)"/>
<polygon points="1749.7,217.2 1762.4,239.4 1737.0,239.4" fill="#F2BD00" clip-path="url(#k107)"/>
<polygon points="1749.7,217.2 1762.4,239.4 1737.0,239.4" fill="#F2BD00" clip-path="url(#k108)"/>
<polygon points="1749.7,217.2 1762.4,239.4 1737.0,239.4" fill="#F2BD00" clip-path="url(#k109)"/>
<polygon points="1730.3,210.8 1743.0,233.0 1717.6,233.0" fill="#F2BD00" clip-path="url(#k110)"/>
<polygon points="1730.3,210.8 1743.0,233.0 1717.6,233.0" fill="#F2BD00" clip-path="url(#k111)"/>
<polygon points="1730.3,210.8 1743.0,233.0 1717.6,233.0" fill="#F2BD00" clip-path="url(#k112)"/>
<polygon points="1730.3,210.8 1743.0,233.0 1717.6,233.0" fill="#F2BD00" clip-path="url(#k113)"/>
<polygon points="1730.3,210.8 1743.0,233.0 1717.6,233.0" fill="#F2BD00" clip-path="url(#k114)"/>
<polygon points="1730.3,210.8 1743.0,233.0 1717.6,233.0" fill="#F2BD00" clip-path="url(#k115)"/>
<polygon points="1730.3,210.8 1743.0,233.0 1717.6,233.0" fill="#F2BD00" clip-path="url(#k116)"/>
<polygon points="1730.3,210.8 1743.0,233.0 1717.6,233.0" fill="#F2BD00" clip-path="url(#k117)"/>
<polygon points="1756.2,225.9 1768.9,248.1 1743.5,248.1" fill="#F2BD00" clip-path="url(#k118)"/>
<polygon points="1756.2,225.9 1768.9,248.1 1743.5,248.1" fill="#F2BD00" clip-path="url(#k119)"/>
<polygon points="1756.2,225.9 1768.9,248.1 1743.5,248.1" fill="#F2BD00" clip-path="url(#k120)"/>
<polygon points="1756.2,225.9 1768.9,248.1 1743.5,248.1" fill="#F2BD00" clip-path="url(#k121)"/>
<polygon points="1756.2,225.9 1768.9,248.1 1743.5,248.1" fill="#F2BD00" clip-path="url(#k122)"/>
<polygon points="1756.2,225.9 1768.9,248.1 1743.5,248.1" fill="#F2BD00" clip-path="url(#k123)"/>
<polygon points="1756.2,225.9 1768.9,248.1 1743.5,248.1" fill="#F2BD00" clip-path="url(#k124)"/>
<polygon points="1756.2,225.9 1768.9,248.1 1743.5,248.1" fill="#F2BD00" clip-path="url(#k125)"/>
<polygon points="1756.2,225.9 1768.9,248.1 1743.5,248.1" fill="#F2BD00" clip-path="url(#k126)"/>
<polygon points="1756.2,225.9 1768.9,248.1 1743.5,248.1" fill="#F2BD00" clip-path="url(#k127)"/>
<polygon points="1756.2,225.9 1768.9,248.1 1743.5,248.1" fill="#F2BD00" clip-path="url(#k128)"/>
<polygon points="1756.2,225.9 1768.9,248.1 1743.5,248.1" fill="#F2BD00" clip-path="url(#k129)"/>
<circle cx="1546.1" cy="668.5" r="9.50" fill="#006EB9" clip-path="url(#k130)"/>
<circle cx="1537.3" cy="675.5" r="9.50" fill="#006EB9" clip-path="url(#k131)"/>
<circle cx="1534.7" cy="712.4" r="9.50" fill="#006EB9" clip-path="url(#k132)"/>
<circle cx="1527.7" cy="710.6" r="9.50" fill="#006EB9" clip-path="url(#k133)"/>
<circle cx="1527.7" cy="710.6" r="9.50" fill="#006EB9" clip-path="url(#k134)"/>
<circle cx="1513.1" cy="726.5" r="9.50" fill="#006EB9" clip-path="url(#k135)"/>
<g stroke="#E6625D" fill="none" opacity="0.3" stroke-linecap="butt"><line x1="1773.5" y1="430.8" x2="1429.6" y2="120.5" stroke-width="2.7"/><polyline points="1436.4,143.3 1428.5,119.5 1452.9,125.0" fill="none" stroke-width="4" stroke-linejoin="round"/><line x1="1773.5" y1="430.8" x2="1426.1" y2="734.3" stroke-width="2.7"/><polyline points="1449.5,730.2 1425.0,735.3 1433.3,711.7" fill="none" stroke-width="4" stroke-linejoin="round"/></g>
<g stroke="#8A8A8A" stroke-width="6.8" stroke-dasharray="10.1 10">
<line x1="1774.0" y1="56.5" x2="1774.0" y2="841.2" stroke-dashoffset="-1.0"/>
<line x1="1365.5" y1="430.8" x2="2184.2" y2="430.8" stroke-dashoffset="-1.6"/>
</g>
<g stroke="#000" stroke-width="3" fill="none">
<rect x="1365.5" y="56.5" width="818.7" height="784.7"/>
<line x1="1354.5" y1="56.5" x2="1365.5" y2="56.5"/>
<line x1="1354.5" y1="150.1" x2="1365.5" y2="150.1"/>
<line x1="1354.5" y1="243.7" x2="1365.5" y2="243.7"/>
<line x1="1354.5" y1="337.3" x2="1365.5" y2="337.3"/>
<line x1="1354.5" y1="430.9" x2="1365.5" y2="430.9"/>
<line x1="1354.5" y1="524.5" x2="1365.5" y2="524.5"/>
<line x1="1354.5" y1="618.1" x2="1365.5" y2="618.1"/>
<line x1="1354.5" y1="711.7" x2="1365.5" y2="711.7"/>
<line x1="1354.5" y1="805.3" x2="1365.5" y2="805.3"/>
<line x1="1399.8" y1="841.2" x2="1399.8" y2="852.2"/>
<line x1="1493.4" y1="841.2" x2="1493.4" y2="852.2"/>
<line x1="1587.0" y1="841.2" x2="1587.0" y2="852.2"/>
<line x1="1680.6" y1="841.2" x2="1680.6" y2="852.2"/>
<line x1="1774.2" y1="841.2" x2="1774.2" y2="852.2"/>
<line x1="1867.8" y1="841.2" x2="1867.8" y2="852.2"/>
<line x1="1961.4" y1="841.2" x2="1961.4" y2="852.2"/>
<line x1="2055.0" y1="841.2" x2="2055.0" y2="852.2"/>
<line x1="2148.6" y1="841.2" x2="2148.6" y2="852.2"/>
</g>
<g font-family="Liberation Serif, Times New Roman, serif" font-weight="bold" fill="#000" stroke="#fff" stroke-width="0.7" stroke-opacity="0.9">
<text x="1324.77" y="66.40" font-size="41.00" textLength="21.75" lengthAdjust="spacingAndGlyphs" >2</text>
<text x="1294.88" y="160.10" font-size="41.00" textLength="51.81" lengthAdjust="spacingAndGlyphs" >1.5</text>
<text x="1325.62" y="254.70" font-size="41.00" textLength="20.52" lengthAdjust="spacingAndGlyphs" >1</text>
<text x="1295.55" y="347.20" font-size="41.00" textLength="51.13" lengthAdjust="spacingAndGlyphs" >0.5</text>
<text x="1325.55" y="443.90" font-size="41.00" textLength="21.70" lengthAdjust="spacingAndGlyphs" >0</text>
<text x="1281.78" y="535.10" font-size="41.00" textLength="74.18" lengthAdjust="spacingAndGlyphs" >−0.5</text>
<text x="1310.95" y="629.10" font-size="41.00" textLength="44.30" lengthAdjust="spacingAndGlyphs" >−1</text>
<text x="1281.78" y="722.80" font-size="41.00" textLength="74.18" lengthAdjust="spacingAndGlyphs" >−1.5</text>
<text x="1310.89" y="816.20" font-size="41.00" textLength="45.38" lengthAdjust="spacingAndGlyphs" >−2</text>
<text x="1380.19" y="890.70" font-size="41.00" textLength="45.38" lengthAdjust="spacingAndGlyphs" >−2</text>
<text x="1458.14" y="890.70" font-size="41.00" textLength="75.55" lengthAdjust="spacingAndGlyphs" >−1.5</text>
<text x="1566.52" y="890.70" font-size="41.00" textLength="44.85" lengthAdjust="spacingAndGlyphs" >−1</text>
<text x="1648.84" y="890.70" font-size="41.00" textLength="75.44" lengthAdjust="spacingAndGlyphs" >−0.5</text>
<text x="1765.95" y="890.70" font-size="41.00" textLength="20.40" lengthAdjust="spacingAndGlyphs" >0</text>
<text x="1847.74" y="890.70" font-size="41.00" textLength="51.23" lengthAdjust="spacingAndGlyphs" >0.5</text>
<text x="1953.66" y="890.70" font-size="41.00" textLength="19.02" lengthAdjust="spacingAndGlyphs" >1</text>
<text x="2034.75" y="890.70" font-size="41.00" textLength="50.82" lengthAdjust="spacingAndGlyphs" >1.5</text>
<text x="2137.13" y="890.70" font-size="41.00" textLength="21.03" lengthAdjust="spacingAndGlyphs" >2</text>
<text x="1679.46" y="949.20" font-size="41.00" textLength="246.36" lengthAdjust="spacingAndGlyphs" >CCA1(6.06%)</text>
<text x="1757.90" y="1003.20" font-size="39.50" textLength="49.92" lengthAdjust="spacingAndGlyphs" >(b)</text>
<text transform="translate(1240.00,508.65) rotate(-90)" x="0" y="0" font-size="41.00" textLength="246.57" lengthAdjust="spacingAndGlyphs">CCA2(4.79%)</text>
<text x="1455.20" y="124.60" font-size="34.40" textLength="43.21" lengthAdjust="spacingAndGlyphs" >TN</text>
<text x="1400.02" y="679.80" font-size="34.40" textLength="67.90" lengthAdjust="spacingAndGlyphs" >SOC</text>
</g>
<g stroke="#E6625D" fill="none" stroke-linecap="butt" stroke-linejoin="miter"><line x1="670.5" y1="1505.5" x2="689.7" y2="1117.1" stroke-width="2.7"/><polyline points="676.4,1136.7 689.8,1115.6 701.0,1137.9" fill="none" stroke-width="4" stroke-linejoin="round"/><line x1="670.5" y1="1505.5" x2="952.3" y2="1486.2" stroke-width="2.7"/><polyline points="931.3,1475.3 953.8,1486.1 932.9,1499.9" fill="none" stroke-width="4" stroke-linejoin="round"/></g>
<polygon points="835.3,1253.7 848.0,1275.9 822.6,1275.9" fill="#F5C53C"/>
<polygon points="706.8,1482.3 719.5,1504.5 694.1,1504.5" fill="#F5C53C"/>
<polygon points="741.0,1498.7 753.7,1520.9 728.3,1520.9" fill="#F5C53C"/>
<polygon points="842.2,1489.0 854.9,1511.2 829.5,1511.2" fill="#F5C53C"/>
<polygon points="842.2,1505.4 854.9,1527.6 829.5,1527.6" fill="#F5C53C"/>
<polygon points="689.9,1507.3 702.6,1529.5 677.2,1529.5" fill="#F5C53C"/>
<polygon points="680.2,1519.9 692.9,1542.1 667.5,1542.1" fill="#F5C53C"/>
<polygon points="688.9,1525.7 701.6,1547.9 676.2,1547.9" fill="#F5C53C"/>
<polygon points="763.5,1517.9 776.2,1540.1 750.8,1540.1" fill="#F5C53C"/>
<polygon points="769.9,1535.3 782.6,1557.5 757.2,1557.5" fill="#F5C53C"/>
<polygon points="821.5,1518.9 834.2,1541.1 808.8,1541.1" fill="#F5C53C"/>
<polygon points="669.3,1577.7 682.0,1599.9 656.6,1599.9" fill="#F5C53C"/>
<polygon points="675.0,1577.9 687.7,1600.1 662.3,1600.1" fill="#F5C53C"/>
<polygon points="673.5,1613.4 686.2,1635.6 660.8,1635.6" fill="#F5C53C"/>
<polygon points="680.2,1623.0 692.9,1645.2 667.5,1645.2" fill="#F5C53C"/>
<polygon points="702.8,1618.2 715.5,1640.4 690.1,1640.4" fill="#F5C53C"/>
<polygon points="706.3,1631.7 719.0,1653.9 693.6,1653.9" fill="#F5C53C"/>
<polygon points="717.8,1632.6 730.5,1654.8 705.1,1654.8" fill="#F5C53C"/>
<polygon points="778.0,1610.5 790.7,1632.7 765.3,1632.7" fill="#F5C53C"/>
<polygon points="656.2,1636.8 668.9,1659.0 643.5,1659.0" fill="#F5C53C"/>
<polygon points="637.9,1608.2 650.6,1630.4 625.2,1630.4" fill="#F5C53C"/>
<polygon points="742.3,1661.6 755.0,1683.8 729.6,1683.8" fill="#F5C53C"/>
<polygon points="695.7,1668.3 708.4,1690.5 683.0,1690.5" fill="#F5C53C"/>
<polygon points="728.8,1702.0 741.5,1724.2 716.1,1724.2" fill="#F5C53C"/>
<polygon points="820.0,1692.4 832.7,1714.6 807.3,1714.6" fill="#F5C53C"/>
<polygon points="699.1,1225.8 708.1,1241.5 699.1,1257.2 690.1,1241.5" fill="#A0A0A0"/>
<polygon points="746.1,1354.5 755.1,1370.2 746.1,1385.9 737.1,1370.2" fill="#A0A0A0"/>
<polygon points="430.0,1439.8 439.0,1455.5 430.0,1471.2 421.0,1455.5" fill="#A0A0A0"/>
<polygon points="519.2,1440.8 528.2,1456.5 519.2,1472.2 510.2,1456.5" fill="#A0A0A0"/>
<polygon points="300.4,1592.1 309.4,1607.8 300.4,1623.5 291.4,1607.8" fill="#A0A0A0"/>
<polygon points="348.8,1595.2 357.8,1610.9 348.8,1626.6 339.8,1610.9" fill="#A0A0A0"/>
<polygon points="387.6,1632.7 396.6,1648.4 387.6,1664.1 378.6,1648.4" fill="#A0A0A0"/>
<polygon points="475.1,1564.0 484.1,1579.7 475.1,1595.4 466.1,1579.7" fill="#A0A0A0"/>
<polygon points="585.6,1574.8 594.6,1590.5 585.6,1606.2 576.6,1590.5" fill="#A0A0A0"/>
<polygon points="650.4,1687.5 659.4,1703.2 650.4,1718.9 641.4,1703.2" fill="#A0A0A0"/>
<polygon points="563.9,1727.3 572.9,1743.0 563.9,1758.7 554.9,1743.0" fill="#A0A0A0"/>
<polygon points="642.2,1775.5 651.2,1791.2 642.2,1806.9 633.2,1791.2" fill="#A0A0A0"/>
<polygon points="726.5,1567.9 735.5,1583.6 726.5,1599.3 717.5,1583.6" fill="#A0A0A0"/>
<circle cx="714.9" cy="1120.8" r="9.50" fill="#008CC8"/>
<circle cx="531.3" cy="1174.3" r="9.50" fill="#008CC8"/>
<circle cx="722.2" cy="1250.5" r="9.50" fill="#008CC8"/>
<circle cx="544.4" cy="1288.3" r="9.50" fill="#008CC8"/>
<circle cx="599.2" cy="1301.0" r="9.50" fill="#008CC8"/>
<circle cx="732.7" cy="1300.4" r="9.50" fill="#008CC8"/>
<circle cx="751.2" cy="1317.3" r="9.50" fill="#008CC8"/>
<circle cx="730.3" cy="1351.2" r="9.50" fill="#008CC8"/>
<circle cx="706.8" cy="1357.6" r="9.50" fill="#008CC8"/>
<circle cx="666.8" cy="1356.6" r="9.50" fill="#008CC8"/>
<circle cx="639.3" cy="1366.6" r="9.50" fill="#008CC8"/>
<circle cx="656.0" cy="1395.8" r="9.50" fill="#008CC8"/>
<circle cx="598.0" cy="1401.0" r="9.50" fill="#008CC8"/>
<circle cx="673.6" cy="1442.5" r="9.50" fill="#008CC8"/>
<circle cx="762.0" cy="1432.6" r="9.50" fill="#008CC8"/>
<circle cx="730.7" cy="1649.1" r="9.50" fill="#008CC8"/>
<polygon points="754.8,1321.4 767.5,1343.6 742.1,1343.6" fill="#F5C53C"/>
<polygon points="842.2,1505.4 854.9,1527.6 829.5,1527.6" fill="#F2BD00" clip-path="url(#k136)"/>
<polygon points="680.2,1519.9 692.9,1542.1 667.5,1542.1" fill="#F2BD00" clip-path="url(#k137)"/>
<polygon points="688.9,1525.7 701.6,1547.9 676.2,1547.9" fill="#F2BD00" clip-path="url(#k138)"/>
<polygon points="688.9,1525.7 701.6,1547.9 676.2,1547.9" fill="#F2BD00" clip-path="url(#k139)"/>
<polygon points="763.5,1517.9 776.2,1540.1 750.8,1540.1" fill="#F2BD00" clip-path="url(#k140)"/>
<polygon points="769.9,1535.3 782.6,1557.5 757.2,1557.5" fill="#F2BD00" clip-path="url(#k141)"/>
<polygon points="821.5,1518.9 834.2,1541.1 808.8,1541.1" fill="#F2BD00" clip-path="url(#k142)"/>
<polygon points="675.0,1577.9 687.7,1600.1 662.3,1600.1" fill="#F2BD00" clip-path="url(#k143)"/>
<polygon points="680.2,1623.0 692.9,1645.2 667.5,1645.2" fill="#F2BD00" clip-path="url(#k144)"/>
<polygon points="702.8,1618.2 715.5,1640.4 690.1,1640.4" fill="#F2BD00" clip-path="url(#k145)"/>
<polygon points="706.3,1631.7 719.0,1653.9 693.6,1653.9" fill="#F2BD00" clip-path="url(#k146)"/>
<polygon points="717.8,1632.6 730.5,1654.8 705.1,1654.8" fill="#F2BD00" clip-path="url(#k147)"/>
<polygon points="717.8,1632.6 730.5,1654.8 705.1,1654.8" fill="#F2BD00" clip-path="url(#k148)"/>
<polygon points="656.2,1636.8 668.9,1659.0 643.5,1659.0" fill="#F2BD00" clip-path="url(#k149)"/>
<circle cx="751.2" cy="1317.3" r="9.50" fill="#006EB9" clip-path="url(#k150)"/>
<circle cx="730.3" cy="1351.2" r="9.50" fill="#2F82B0" clip-path="url(#k151)"/>
<circle cx="730.7" cy="1649.1" r="9.50" fill="#3C80AF" clip-path="url(#k152)"/>
<polygon points="754.8,1321.4 767.5,1343.6 742.1,1343.6" fill="#D7AF3C" clip-path="url(#k153)"/>
<g stroke="#E6625D" fill="none" opacity="0.3" stroke-linecap="butt"><line x1="670.5" y1="1505.5" x2="689.7" y2="1117.1" stroke-width="2.7"/><polyline points="676.4,1136.7 689.8,1115.6 701.0,1137.9" fill="none" stroke-width="4" stroke-linejoin="round"/><line x1="670.5" y1="1505.5" x2="952.3" y2="1486.2" stroke-width="2.7"/><polyline points="931.3,1475.3 953.8,1486.1 932.9,1499.9" fill="none" stroke-width="4" stroke-linejoin="round"/></g>
<g stroke="#8A8A8A" stroke-width="6.8" stroke-dasharray="10.1 10">
<line x1="670.3" y1="1041.2" x2="670.3" y2="1831.0" stroke-dashoffset="-2.0"/>
<line x1="217.0" y1="1505.9" x2="1041.3" y2="1505.9" stroke-dashoffset="-1.6"/>
</g>
<g stroke="#000" stroke-width="3" fill="none">
<rect x="217.0" y="1041.2" width="824.3" height="789.8"/>
<line x1="206.0" y1="1040.2" x2="217.0" y2="1040.2"/>
<line x1="206.0" y1="1214.7" x2="217.0" y2="1214.7"/>
<line x1="206.0" y1="1389.2" x2="217.0" y2="1389.2"/>
<line x1="206.0" y1="1505.5" x2="217.0" y2="1505.5"/>
<line x1="206.0" y1="1621.8" x2="217.0" y2="1621.8"/>
<line x1="206.0" y1="1796.3" x2="217.0" y2="1796.3"/>
<line x1="251.3" y1="1831.0" x2="251.3" y2="1842.0"/>
<line x1="419.2" y1="1831.0" x2="419.2" y2="1842.0"/>
<line x1="503.2" y1="1831.0" x2="503.2" y2="1842.0"/>
<line x1="587.1" y1="1831.0" x2="587.1" y2="1842.0"/>
<line x1="671.1" y1="1831.0" x2="671.1" y2="1842.0"/>
<line x1="755.1" y1="1831.0" x2="755.1" y2="1842.0"/>
<line x1="839.0" y1="1831.0" x2="839.0" y2="1842.0"/>
<line x1="923.0" y1="1831.0" x2="923.0" y2="1842.0"/>
<line x1="1006.9" y1="1831.0" x2="1006.9" y2="1842.0"/>
</g>
<g font-family="Liberation Serif, Times New Roman, serif" font-weight="bold" fill="#000" stroke="#fff" stroke-width="0.7" stroke-opacity="0.9">
<text x="137.90" y="1050.20" font-size="41.00" textLength="61.87" lengthAdjust="spacingAndGlyphs" >800</text>
<text x="137.64" y="1224.80" font-size="41.00" textLength="62.13" lengthAdjust="spacingAndGlyphs" >500</text>
<text x="136.84" y="1398.30" font-size="41.00" textLength="62.96" lengthAdjust="spacingAndGlyphs" >200</text>
<text x="180.50" y="1515.20" font-size="41.00" textLength="21.11" lengthAdjust="spacingAndGlyphs" >0</text>
<text x="115.29" y="1631.90" font-size="41.00" textLength="84.86" lengthAdjust="spacingAndGlyphs" >−200</text>
<text x="115.29" y="1805.40" font-size="41.00" textLength="84.86" lengthAdjust="spacingAndGlyphs" >−500</text>
<text x="180.35" y="1876.30" font-size="41.00" textLength="106.21" lengthAdjust="spacingAndGlyphs" >−1000</text>
<text x="366.74" y="1876.30" font-size="41.00" textLength="86.03" lengthAdjust="spacingAndGlyphs" >−600</text>
<text x="529.74" y="1876.30" font-size="41.00" textLength="85.82" lengthAdjust="spacingAndGlyphs" >−200</text>
<text x="659.46" y="1876.30" font-size="41.00" textLength="21.58" lengthAdjust="spacingAndGlyphs" >0</text>
<text x="722.03" y="1876.30" font-size="41.00" textLength="63.27" lengthAdjust="spacingAndGlyphs" >200</text>
<text x="890.59" y="1876.30" font-size="41.00" textLength="62.18" lengthAdjust="spacingAndGlyphs" >600</text>
<text x="521.10" y="1930.10" font-size="41.00" textLength="256.76" lengthAdjust="spacingAndGlyphs" >RDA1(16.49%)</text>
<text x="603.86" y="1990.60" font-size="39.40" textLength="46.48" lengthAdjust="spacingAndGlyphs" >(c)</text>
<text transform="translate(89.00,1504.86) rotate(-90)" x="0" y="0" font-size="41.00" textLength="256.65" lengthAdjust="spacingAndGlyphs">RDA2(9.87%)</text>
<text x="732.49" y="1157.60" font-size="34.40" textLength="68.86" lengthAdjust="spacingAndGlyphs" >SOC</text>
<text x="968.39" y="1486.80" font-size="34.40" textLength="44.53" lengthAdjust="spacingAndGlyphs" >TN</text>
</g>
<g stroke="#E6625D" fill="none" stroke-linecap="butt" stroke-linejoin="miter"><line x1="1948.5" y1="1457.8" x2="1729.6" y2="1128.3" stroke-width="2.7"/><polyline points="1730.6,1152.0 1728.8,1127.1 1751.1,1138.4" fill="none" stroke-width="4" stroke-linejoin="round"/><line x1="1948.5" y1="1457.8" x2="1438.7" y2="1564.2" stroke-width="2.7"/><polyline points="1461.1,1572.1 1437.3,1564.5 1456.0,1548.0" fill="none" stroke-width="4" stroke-linejoin="round"/></g>
<polygon points="1562.6,1240.9 1575.3,1263.1 1549.9,1263.1" fill="#F5C53C"/>
<polygon points="1752.5,1199.2 1765.2,1221.4 1739.8,1221.4" fill="#F5C53C"/>
<polygon points="1890.6,1117.2 1903.3,1139.4 1877.9,1139.4" fill="#F5C53C"/>
<polygon points="1918.6,1193.4 1931.3,1215.6 1905.9,1215.6" fill="#F5C53C"/>
<polygon points="1849.1,1298.1 1861.8,1320.3 1836.4,1320.3" fill="#F5C53C"/>
<polygon points="1891.3,1338.3 1904.0,1360.5 1878.6,1360.5" fill="#F5C53C"/>
<polygon points="1934.0,1398.0 1946.7,1420.2 1921.3,1420.2" fill="#F5C53C"/>
<polygon points="1998.9,1349.1 2011.6,1371.3 1986.2,1371.3" fill="#F5C53C"/>
<polygon points="2003.6,1360.1 2016.3,1382.3 1990.9,1382.3" fill="#F5C53C"/>
<polygon points="2029.1,1363.8 2041.8,1386.0 2016.4,1386.0" fill="#F5C53C"/>
<polygon points="2047.1,1380.8 2059.8,1403.0 2034.4,1403.0" fill="#F5C53C"/>
<polygon points="2035.3,1387.1 2048.0,1409.3 2022.6,1409.3" fill="#F5C53C"/>
<polygon points="2040.4,1395.5 2053.1,1417.7 2027.7,1417.7" fill="#F5C53C"/>
<polygon points="2022.7,1405.2 2035.4,1427.4 2010.0,1427.4" fill="#F5C53C"/>
<polygon points="2034.5,1406.3 2047.2,1428.5 2021.8,1428.5" fill="#F5C53C"/>
<polygon points="2039.0,1415.6 2051.7,1437.8 2026.3,1437.8" fill="#F5C53C"/>
<polygon points="2003.9,1437.7 2016.6,1459.9 1991.2,1459.9" fill="#F5C53C"/>
<polygon points="2033.8,1432.4 2046.5,1454.6 2021.1,1454.6" fill="#F5C53C"/>
<polygon points="2017.6,1465.7 2030.3,1487.9 2004.9,1487.9" fill="#F5C53C"/>
<polygon points="2002.4,1488.4 2015.1,1510.6 1989.7,1510.6" fill="#F5C53C"/>
<polygon points="2062.8,1489.9 2075.5,1512.1 2050.1,1512.1" fill="#F5C53C"/>
<polygon points="2078.5,1491.0 2091.2,1513.2 2065.8,1513.2" fill="#F5C53C"/>
<polygon points="2047.1,1508.4 2059.8,1530.6 2034.4,1530.6" fill="#F5C53C"/>
<polygon points="2068.4,1506.9 2081.1,1529.1 2055.7,1529.1" fill="#F5C53C"/>
<polygon points="2023.0,1389.1 2032.0,1404.8 2023.0,1420.5 2014.0,1404.8" fill="#A0A0A0"/>
<polygon points="2055.2,1418.6 2064.2,1434.3 2055.2,1450.0 2046.2,1434.3" fill="#A0A0A0"/>
<polygon points="2055.2,1433.4 2064.2,1449.1 2055.2,1464.8 2046.2,1449.1" fill="#A0A0A0"/>
<polygon points="2053.7,1442.2 2062.7,1457.9 2053.7,1473.6 2044.7,1457.9" fill="#A0A0A0"/>
<polygon points="2052.5,1460.6 2061.5,1476.3 2052.5,1492.0 2043.5,1476.3" fill="#A0A0A0"/>
<polygon points="2064.0,1493.8 2073.0,1509.5 2064.0,1525.2 2055.0,1509.5" fill="#A0A0A0"/>
<polygon points="2020.1,1513.7 2029.1,1529.4 2020.1,1545.1 2011.1,1529.4" fill="#A0A0A0"/>
<polygon points="2026.0,1515.9 2035.0,1531.6 2026.0,1547.3 2017.0,1531.6" fill="#A0A0A0"/>
<polygon points="2032.3,1546.9 2041.3,1562.6 2032.3,1578.3 2023.3,1562.6" fill="#A0A0A0"/>
<polygon points="2075.8,1543.2 2084.8,1558.9 2075.8,1574.6 2066.8,1558.9" fill="#A0A0A0"/>
<polygon points="2085.4,1538.0 2094.4,1553.7 2085.4,1569.4 2076.4,1553.7" fill="#A0A0A0"/>
<polygon points="2064.4,1761.9 2073.4,1777.6 2064.4,1793.3 2055.4,1777.6" fill="#A0A0A0"/>
<polygon points="2130.7,1683.7 2139.7,1699.4 2130.7,1715.1 2121.7,1699.4" fill="#A0A0A0"/>
<circle cx="1874.4" cy="1150.0" r="9.50" fill="#008CC8"/>
<circle cx="1826.2" cy="1275.7" r="9.50" fill="#008CC8"/>
<circle cx="1915.3" cy="1347.2" r="9.50" fill="#008CC8"/>
<circle cx="1937.4" cy="1346.0" r="9.50" fill="#008CC8"/>
<circle cx="1853.7" cy="1388.0" r="9.50" fill="#008CC8"/>
<circle cx="1877.3" cy="1414.7" r="9.50" fill="#008CC8"/>
<circle cx="1927.4" cy="1412.0" r="9.50" fill="#008CC8"/>
<circle cx="1901.6" cy="1484.5" r="9.50" fill="#008CC8"/>
<circle cx="1886.9" cy="1518.6" r="9.50" fill="#008CC8"/>
<circle cx="1953.2" cy="1505.3" r="9.50" fill="#008CC8"/>
<circle cx="1978.5" cy="1527.5" r="9.50" fill="#008CC8"/>
<circle cx="1620.0" cy="1633.8" r="9.50" fill="#008CC8"/>
<circle cx="1571.0" cy="1652.0" r="9.50" fill="#008CC8"/>
<circle cx="1458.9" cy="1686.4" r="9.50" fill="#008CC8"/>
<circle cx="1443.1" cy="1732.2" r="9.50" fill="#008CC8"/>
<circle cx="1980.1" cy="1783.9" r="9.50" fill="#008CC8"/>
<polygon points="2003.6,1360.1 2016.3,1382.3 1990.9,1382.3" fill="#F2BD00" clip-path="url(#k154)"/>
<polygon points="2047.1,1380.8 2059.8,1403.0 2034.4,1403.0" fill="#F2BD00" clip-path="url(#k155)"/>
<polygon points="2035.3,1387.1 2048.0,1409.3 2022.6,1409.3" fill="#F2BD00" clip-path="url(#k156)"/>
<polygon points="2040.4,1395.5 2053.1,1417.7 2027.7,1417.7" fill="#F2BD00" clip-path="url(#k157)"/>
<polygon points="2040.4,1395.5 2053.1,1417.7 2027.7,1417.7" fill="#F2BD00" clip-path="url(#k158)"/>
<polygon points="2022.7,1405.2 2035.4,1427.4 2010.0,1427.4" fill="#F2BD00" clip-path="url(#k159)"/>
<polygon points="2022.7,1405.2 2035.4,1427.4 2010.0,1427.4" fill="#F2BD00" clip-path="url(#k160)"/>
<polygon points="2034.5,1406.3 2047.2,1428.5 2021.8,1428.5" fill="#F2BD00" clip-path="url(#k161)"/>
<polygon points="2034.5,1406.3 2047.2,1428.5 2021.8,1428.5" fill="#F2BD00" clip-path="url(#k162)"/>
<polygon points="2034.5,1406.3 2047.2,1428.5 2021.8,1428.5" fill="#F2BD00" clip-path="url(#k163)"/>
<polygon points="2039.0,1415.6 2051.7,1437.8 2026.3,1437.8" fill="#F2BD00" clip-path="url(#k164)"/>
<polygon points="2039.0,1415.6 2051.7,1437.8 2026.3,1437.8" fill="#F2BD00" clip-path="url(#k165)"/>
<polygon points="2039.0,1415.6 2051.7,1437.8 2026.3,1437.8" fill="#F2BD00" clip-path="url(#k166)"/>
<polygon points="2033.8,1432.4 2046.5,1454.6 2021.1,1454.6" fill="#F2BD00" clip-path="url(#k167)"/>
<polygon points="2078.5,1491.0 2091.2,1513.2 2065.8,1513.2" fill="#F2BD00" clip-path="url(#k168)"/>
<polygon points="2047.1,1508.4 2059.8,1530.6 2034.4,1530.6" fill="#F2BD00" clip-path="url(#k169)"/>
<polygon points="2068.4,1506.9 2081.1,1529.1 2055.7,1529.1" fill="#F2BD00" clip-path="url(#k170)"/>
<polygon points="2068.4,1506.9 2081.1,1529.1 2055.7,1529.1" fill="#F2BD00" clip-path="url(#k171)"/>
<polygon points="2068.4,1506.9 2081.1,1529.1 2055.7,1529.1" fill="#F2BD00" clip-path="url(#k172)"/>
<polygon points="2023.0,1389.1 2032.0,1404.8 2023.0,1420.5 2014.0,1404.8" fill="#A39A86" clip-path="url(#k173)"/>
<polygon points="2023.0,1389.1 2032.0,1404.8 2023.0,1420.5 2014.0,1404.8" fill="#A39A86" clip-path="url(#k174)"/>
<polygon points="2023.0,1389.1 2032.0,1404.8 2023.0,1420.5 2014.0,1404.8" fill="#A39A86" clip-path="url(#k175)"/>
<polygon points="2023.0,1389.1 2032.0,1404.8 2023.0,1420.5 2014.0,1404.8" fill="#A39A86" clip-path="url(#k176)"/>
<polygon points="2023.0,1389.1 2032.0,1404.8 2023.0,1420.5 2014.0,1404.8" fill="#A39A86" clip-path="url(#k177)"/>
<polygon points="2055.2,1418.6 2064.2,1434.3 2055.2,1450.0 2046.2,1434.3" fill="#A39A86" clip-path="url(#k178)"/>
<polygon points="2055.2,1418.6 2064.2,1434.3 2055.2,1450.0 2046.2,1434.3" fill="#A39A86" clip-path="url(#k179)"/>
<polygon points="2055.2,1418.6 2064.2,1434.3 2055.2,1450.0 2046.2,1434.3" fill="#A39A86" clip-path="url(#k180)"/>
<polygon points="2055.2,1433.4 2064.2,1449.1 2055.2,1464.8 2046.2,1449.1" fill="#A39A86" clip-path="url(#k181)"/>
<polygon points="2055.2,1433.4 2064.2,1449.1 2055.2,1464.8 2046.2,1449.1" fill="#A39A86" clip-path="url(#k182)"/>
<polygon points="2055.2,1433.4 2064.2,1449.1 2055.2,1464.8 2046.2,1449.1" fill="#8A888A" clip-path="url(#k183)"/>
<polygon points="2053.7,1442.2 2062.7,1457.9 2053.7,1473.6 2044.7,1457.9" fill="#A39A86" clip-path="url(#k184)"/>
<polygon points="2053.7,1442.2 2062.7,1457.9 2053.7,1473.6 2044.7,1457.9" fill="#8A888A" clip-path="url(#k185)"/>
<polygon points="2053.7,1442.2 2062.7,1457.9 2053.7,1473.6 2044.7,1457.9" fill="#8A888A" clip-path="url(#k186)"/>
<polygon points="2052.5,1460.6 2061.5,1476.3 2052.5,1492.0 2043.5,1476.3" fill="#A39A86" clip-path="url(#k187)"/>
<polygon points="2052.5,1460.6 2061.5,1476.3 2052.5,1492.0 2043.5,1476.3" fill="#8A888A" clip-path="url(#k188)"/>
<polygon points="2052.5,1460.6 2061.5,1476.3 2052.5,1492.0 2043.5,1476.3" fill="#8A888A" clip-path="url(#k189)"/>
<polygon points="2064.0,1493.8 2073.0,1509.5 2064.0,1525.2 2055.0,1509.5" fill="#A39A86" clip-path="url(#k190)"/>
<polygon points="2064.0,1493.8 2073.0,1509.5 2064.0,1525.2 2055.0,1509.5" fill="#A39A86" clip-path="url(#k191)"/>
<polygon points="2064.0,1493.8 2073.0,1509.5 2064.0,1525.2 2055.0,1509.5" fill="#A39A86" clip-path="url(#k192)"/>
<polygon points="2064.0,1493.8 2073.0,1509.5 2064.0,1525.2 2055.0,1509.5" fill="#A39A86" clip-path="url(#k193)"/>
<polygon points="2026.0,1515.9 2035.0,1531.6 2026.0,1547.3 2017.0,1531.6" fill="#A39A86" clip-path="url(#k194)"/>
<polygon points="2026.0,1515.9 2035.0,1531.6 2026.0,1547.3 2017.0,1531.6" fill="#8A888A" clip-path="url(#k195)"/>
<polygon points="2032.3,1546.9 2041.3,1562.6 2032.3,1578.3 2023.3,1562.6" fill="#8A888A" clip-path="url(#k196)"/>
<polygon points="2085.4,1538.0 2094.4,1553.7 2085.4,1569.4 2076.4,1553.7" fill="#8A888A" clip-path="url(#k197)"/>
<circle cx="1927.4" cy="1412.0" r="9.50" fill="#3C80AF" clip-path="url(#k198)"/>
<g stroke="#E6625D" fill="none" opacity="0.3" stroke-linecap="butt"><line x1="1948.5" y1="1457.8" x2="1729.6" y2="1128.3" stroke-width="2.7"/><polyline points="1730.6,1152.0 1728.8,1127.1 1751.1,1138.4" fill="none" stroke-width="4" stroke-linejoin="round"/><line x1="1948.5" y1="1457.8" x2="1438.7" y2="1564.2" stroke-width="2.7"/><polyline points="1461.1,1572.1 1437.3,1564.5 1456.0,1548.0" fill="none" stroke-width="4" stroke-linejoin="round"/></g>
<g stroke="#8A8A8A" stroke-width="6.8" stroke-dasharray="10.1 10">
<line x1="1949.0" y1="1042.3" x2="1949.0" y2="1826.4" stroke-dashoffset="-1.5"/>
<line x1="1370.8" y1="1458.0" x2="2183.1" y2="1458.0" stroke-dashoffset="-1.5"/>
</g>
<g stroke="#000" stroke-width="3" fill="none">
<rect x="1370.8" y="1042.3" width="812.3" height="784.1"/>
<line x1="1359.8" y1="1125.6" x2="1370.8" y2="1125.6"/>
<line x1="1359.8" y1="1291.9" x2="1370.8" y2="1291.9"/>
<line x1="1359.8" y1="1458.2" x2="1370.8" y2="1458.2"/>
<line x1="1359.8" y1="1624.5" x2="1370.8" y2="1624.5"/>
<line x1="1359.8" y1="1790.8" x2="1370.8" y2="1790.8"/>
<line x1="1456.1" y1="1826.4" x2="1456.1" y2="1837.4"/>
<line x1="1604.2" y1="1826.4" x2="1604.2" y2="1837.4"/>
<line x1="1752.3" y1="1826.4" x2="1752.3" y2="1837.4"/>
<line x1="1900.3" y1="1826.4" x2="1900.3" y2="1837.4"/>
<line x1="1949.7" y1="1826.4" x2="1949.7" y2="1837.4"/>
<line x1="1999.1" y1="1826.4" x2="1999.1" y2="1837.4"/>
<line x1="2147.1" y1="1826.4" x2="2147.1" y2="1837.4"/>
</g>
<g font-family="Liberation Serif, Times New Roman, serif" font-weight="bold" fill="#000" stroke="#fff" stroke-width="0.7" stroke-opacity="0.9">
<text x="1269.44" y="1140.50" font-size="41.00" textLength="83.75" lengthAdjust="spacingAndGlyphs" >2000</text>
<text x="1269.18" y="1308.10" font-size="41.00" textLength="82.89" lengthAdjust="spacingAndGlyphs" >1000</text>
<text x="1331.65" y="1469.00" font-size="41.00" textLength="20.40" lengthAdjust="spacingAndGlyphs" >0</text>
<text x="1257.52" y="1638.90" font-size="41.00" textLength="95.69" lengthAdjust="spacingAndGlyphs" >-1000</text>
<text x="1257.02" y="1805.40" font-size="41.00" textLength="96.21" lengthAdjust="spacingAndGlyphs" >-2000</text>
<text x="1398.23" y="1876.60" font-size="41.00" textLength="107.35" lengthAdjust="spacingAndGlyphs" >−2000</text>
<text x="1550.83" y="1876.60" font-size="41.00" textLength="107.25" lengthAdjust="spacingAndGlyphs" >−1400</text>
<text x="1712.53" y="1876.60" font-size="41.00" textLength="86.45" lengthAdjust="spacingAndGlyphs" >−800</text>
<text x="1857.56" y="1876.60" font-size="41.00" textLength="84.99" lengthAdjust="spacingAndGlyphs" >−200</text>
<text x="1938.50" y="1876.60" font-size="41.00" textLength="22.41" lengthAdjust="spacingAndGlyphs" >0</text>
<text x="1971.75" y="1876.60" font-size="41.00" textLength="62.54" lengthAdjust="spacingAndGlyphs" >200</text>
<text x="2115.79" y="1876.60" font-size="41.00" textLength="62.29" lengthAdjust="spacingAndGlyphs" >800</text>
<text x="1674.69" y="1930.10" font-size="41.00" textLength="259.58" lengthAdjust="spacingAndGlyphs" >RDA1(27.43%)</text>
<text x="1756.76" y="1984.70" font-size="39.10" textLength="51.10" lengthAdjust="spacingAndGlyphs" >(d)</text>
<text transform="translate(1240.90,1499.52) rotate(-90)" x="0" y="0" font-size="41.00" textLength="242.61" lengthAdjust="spacingAndGlyphs">RDA2(0.92%)</text>
<text x="1754.40" y="1132.60" font-size="34.40" textLength="43.51" lengthAdjust="spacingAndGlyphs" >TN</text>
<text x="1472.45" y="1589.80" font-size="34.40" textLength="70.35" lengthAdjust="spacingAndGlyphs" >SOC</text>
</g>
<circle cx="2235.0" cy="55.4" r="12.65" fill="#008CC8"/>
<polygon points="2234.9,79.1 2249.45,104.1 2220.35,104.1" fill="#F5C53C"/>
<polygon points="2234.9,110.3 2245.15,128.0 2234.9,145.7 2224.65,128.0" fill="#A0A0A0"/>
<g font-family="Liberation Serif, Times New Roman, serif" font-weight="bold" fill="#000" stroke="#fff" stroke-width="0.7" stroke-opacity="0.9">
<text x="2264.50" y="67.80" font-size="40.00" textLength="81.74" lengthAdjust="spacingAndGlyphs" >JYG</text>
<text x="2265.72" y="104.10" font-size="40.00" textLength="59.47" lengthAdjust="spacingAndGlyphs" >GZ</text>
<text x="2265.56" y="140.40" font-size="40.00" textLength="102.35" lengthAdjust="spacingAndGlyphs" >MGK</text>
</g>
</svg>
</body></html>
